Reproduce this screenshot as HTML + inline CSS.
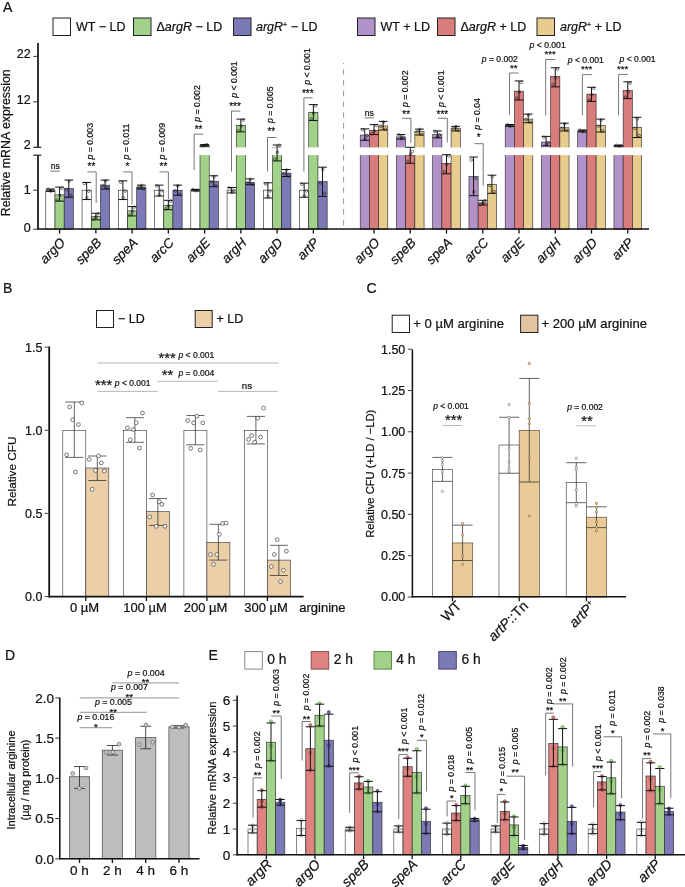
<!DOCTYPE html>
<html><head><meta charset="utf-8"><title>Figure</title>
<style>html,body{margin:0;padding:0;background:#fff;}svg{display:block;}svg text{font-family:"Liberation Sans",sans-serif;stroke:#111;stroke-width:0.22px;}</style></head>
<body>
<svg width="685" height="887" viewBox="0 0 685 887"  shape-rendering="geometricPrecision">
<rect x="0" y="0" width="685" height="887" fill="#fff"/>
<text x="3.00" y="12.00" font-size="14" text-anchor="start" fill="#111">A</text>
<rect x="53.00" y="18.00" width="17.50" height="17.50" fill="#ffffff" stroke="#222" stroke-width="1.0"/>
<text x="76.00" y="30.50" font-size="12.5" text-anchor="start" fill="#111">WT − LD</text>
<rect x="133.50" y="18.00" width="17.50" height="17.50" fill="#a2d28a" stroke="#222" stroke-width="1.0"/>
<text x="156.50" y="30.50" font-size="12.5" text-anchor="start" fill="#111">Δ<tspan font-style="italic">argR</tspan> − LD</text>
<rect x="233.50" y="18.00" width="17.50" height="17.50" fill="#7b7ab6" stroke="#222" stroke-width="1.0"/>
<text x="256.00" y="30.50" font-size="12.5" text-anchor="start" fill="#111"><tspan font-style="italic">argR</tspan><tspan dy="-4" font-size="7">+</tspan><tspan dy="4" font-size="1">&#8203;</tspan> − LD</text>
<rect x="357.50" y="18.00" width="17.50" height="17.50" fill="#b092c8" stroke="#222" stroke-width="1.0"/>
<text x="380.50" y="30.50" font-size="12.5" text-anchor="start" fill="#111">WT + LD</text>
<rect x="437.50" y="18.00" width="17.50" height="17.50" fill="#d97c7c" stroke="#222" stroke-width="1.0"/>
<text x="460.50" y="30.50" font-size="12.5" text-anchor="start" fill="#111">Δ<tspan font-style="italic">argR</tspan> + LD</text>
<rect x="537.00" y="18.00" width="17.50" height="17.50" fill="#e8cc8e" stroke="#222" stroke-width="1.0"/>
<text x="560.00" y="30.50" font-size="12.5" text-anchor="start" fill="#111"><tspan font-style="italic">argR</tspan><tspan dy="-4" font-size="7">+</tspan><tspan dy="4" font-size="1">&#8203;</tspan> + LD</text>
<rect x="45.80" y="190.20" width="9.20" height="39.00" fill="#ffffff" stroke="#222" stroke-width="0.6"/>
<rect x="55.00" y="194.88" width="9.20" height="34.32" fill="#a2d28a" stroke="#222" stroke-width="0.6"/>
<rect x="64.20" y="188.64" width="9.20" height="40.56" fill="#7b7ab6" stroke="#222" stroke-width="0.6"/>
<rect x="82.05" y="190.20" width="9.20" height="39.00" fill="#ffffff" stroke="#222" stroke-width="0.6"/>
<rect x="91.25" y="216.72" width="9.20" height="12.48" fill="#a2d28a" stroke="#222" stroke-width="0.6"/>
<rect x="100.45" y="185.13" width="9.20" height="44.07" fill="#7b7ab6" stroke="#222" stroke-width="0.6"/>
<rect x="118.30" y="190.20" width="9.20" height="39.00" fill="#ffffff" stroke="#222" stroke-width="0.6"/>
<rect x="127.50" y="210.87" width="9.20" height="18.33" fill="#a2d28a" stroke="#222" stroke-width="0.6"/>
<rect x="136.70" y="187.08" width="9.20" height="42.12" fill="#7b7ab6" stroke="#222" stroke-width="0.6"/>
<rect x="154.55" y="190.20" width="9.20" height="39.00" fill="#ffffff" stroke="#222" stroke-width="0.6"/>
<rect x="163.75" y="205.41" width="9.20" height="23.79" fill="#a2d28a" stroke="#222" stroke-width="0.6"/>
<rect x="172.95" y="190.20" width="9.20" height="39.00" fill="#7b7ab6" stroke="#222" stroke-width="0.6"/>
<rect x="190.80" y="190.20" width="9.20" height="39.00" fill="#ffffff" stroke="#222" stroke-width="0.6"/>
<rect x="200.00" y="145.35" width="9.20" height="83.85" fill="#a2d28a" stroke="#222" stroke-width="0.6"/>
<rect x="209.20" y="181.23" width="9.20" height="47.97" fill="#7b7ab6" stroke="#222" stroke-width="0.6"/>
<rect x="227.05" y="190.20" width="9.20" height="39.00" fill="#ffffff" stroke="#222" stroke-width="0.6"/>
<rect x="236.25" y="125.26" width="9.20" height="103.94" fill="#a2d28a" stroke="#222" stroke-width="0.6"/>
<rect x="245.45" y="182.40" width="9.20" height="46.80" fill="#7b7ab6" stroke="#222" stroke-width="0.6"/>
<rect x="263.30" y="190.20" width="9.20" height="39.00" fill="#ffffff" stroke="#222" stroke-width="0.6"/>
<rect x="272.50" y="147.30" width="9.20" height="81.90" fill="#a2d28a" stroke="#222" stroke-width="0.6"/>
<rect x="281.70" y="173.04" width="9.20" height="56.16" fill="#7b7ab6" stroke="#222" stroke-width="0.6"/>
<rect x="299.55" y="190.20" width="9.20" height="39.00" fill="#ffffff" stroke="#222" stroke-width="0.6"/>
<rect x="308.75" y="112.30" width="9.20" height="116.90" fill="#a2d28a" stroke="#222" stroke-width="0.6"/>
<rect x="317.95" y="181.62" width="9.20" height="47.58" fill="#7b7ab6" stroke="#222" stroke-width="0.6"/>
<rect x="360.20" y="135.03" width="9.20" height="94.17" fill="#b092c8" stroke="#222" stroke-width="0.6"/>
<rect x="369.40" y="130.48" width="9.20" height="98.72" fill="#d97c7c" stroke="#222" stroke-width="0.6"/>
<rect x="378.60" y="125.94" width="9.20" height="103.26" fill="#e8cc8e" stroke="#222" stroke-width="0.6"/>
<rect x="396.45" y="137.03" width="9.20" height="92.17" fill="#b092c8" stroke="#222" stroke-width="0.6"/>
<rect x="405.65" y="155.20" width="9.20" height="74.00" fill="#d97c7c" stroke="#222" stroke-width="0.6"/>
<rect x="414.85" y="131.39" width="9.20" height="97.81" fill="#e8cc8e" stroke="#222" stroke-width="0.6"/>
<rect x="432.70" y="134.57" width="9.20" height="94.63" fill="#b092c8" stroke="#222" stroke-width="0.6"/>
<rect x="441.90" y="163.29" width="9.20" height="65.91" fill="#d97c7c" stroke="#222" stroke-width="0.6"/>
<rect x="451.10" y="128.21" width="9.20" height="100.99" fill="#e8cc8e" stroke="#222" stroke-width="0.6"/>
<rect x="468.95" y="176.55" width="9.20" height="52.65" fill="#b092c8" stroke="#222" stroke-width="0.6"/>
<rect x="478.15" y="202.88" width="9.20" height="26.32" fill="#d97c7c" stroke="#222" stroke-width="0.6"/>
<rect x="487.35" y="184.51" width="9.20" height="44.69" fill="#e8cc8e" stroke="#222" stroke-width="0.6"/>
<rect x="505.20" y="125.48" width="9.20" height="103.72" fill="#b092c8" stroke="#222" stroke-width="0.6"/>
<rect x="514.40" y="91.17" width="9.20" height="138.03" fill="#d97c7c" stroke="#222" stroke-width="0.6"/>
<rect x="523.60" y="119.12" width="9.20" height="110.08" fill="#e8cc8e" stroke="#222" stroke-width="0.6"/>
<rect x="541.45" y="142.03" width="9.20" height="87.17" fill="#b092c8" stroke="#222" stroke-width="0.6"/>
<rect x="550.65" y="76.40" width="9.20" height="152.80" fill="#d97c7c" stroke="#222" stroke-width="0.6"/>
<rect x="559.85" y="127.76" width="9.20" height="101.44" fill="#e8cc8e" stroke="#222" stroke-width="0.6"/>
<rect x="577.70" y="130.94" width="9.20" height="98.26" fill="#b092c8" stroke="#222" stroke-width="0.6"/>
<rect x="586.90" y="94.12" width="9.20" height="135.08" fill="#d97c7c" stroke="#222" stroke-width="0.6"/>
<rect x="596.10" y="125.48" width="9.20" height="103.72" fill="#e8cc8e" stroke="#222" stroke-width="0.6"/>
<rect x="613.95" y="145.71" width="9.20" height="83.49" fill="#b092c8" stroke="#222" stroke-width="0.6"/>
<rect x="623.15" y="90.49" width="9.20" height="138.71" fill="#d97c7c" stroke="#222" stroke-width="0.6"/>
<rect x="632.35" y="127.30" width="9.20" height="101.90" fill="#e8cc8e" stroke="#222" stroke-width="0.6"/>
<rect x="30" y="147.4" width="625" height="7.7" fill="#fff"/>
<line x1="50.40" y1="189.03" x2="50.40" y2="191.37" stroke="#111" stroke-width="1.0" />
<line x1="46.00" y1="189.03" x2="54.80" y2="189.03" stroke="#111" stroke-width="1.0" />
<line x1="46.00" y1="191.37" x2="54.80" y2="191.37" stroke="#111" stroke-width="1.0" />
<circle cx="48.10" cy="189.21" r="1.3" fill="none" stroke="#111" stroke-width="0.55"/>
<circle cx="52.60" cy="190.32" r="1.3" fill="none" stroke="#111" stroke-width="0.55"/>
<circle cx="50.70" cy="191.14" r="1.3" fill="none" stroke="#111" stroke-width="0.55"/>
<line x1="59.60" y1="187.08" x2="59.60" y2="201.12" stroke="#111" stroke-width="1.0" />
<line x1="55.20" y1="187.08" x2="64.00" y2="187.08" stroke="#111" stroke-width="1.0" />
<line x1="55.20" y1="201.12" x2="64.00" y2="201.12" stroke="#111" stroke-width="1.0" />
<circle cx="61.80" cy="188.25" r="1.3" fill="none" stroke="#111" stroke-width="0.55"/>
<circle cx="59.90" cy="195.50" r="1.3" fill="none" stroke="#111" stroke-width="0.55"/>
<circle cx="57.30" cy="199.87" r="1.3" fill="none" stroke="#111" stroke-width="0.55"/>
<line x1="68.80" y1="180.06" x2="68.80" y2="197.22" stroke="#111" stroke-width="1.0" />
<line x1="64.40" y1="180.06" x2="73.20" y2="180.06" stroke="#111" stroke-width="1.0" />
<line x1="64.40" y1="197.22" x2="73.20" y2="197.22" stroke="#111" stroke-width="1.0" />
<circle cx="69.10" cy="181.35" r="1.3" fill="none" stroke="#111" stroke-width="0.55"/>
<circle cx="66.50" cy="189.50" r="1.3" fill="none" stroke="#111" stroke-width="0.55"/>
<circle cx="71.00" cy="195.50" r="1.3" fill="none" stroke="#111" stroke-width="0.55"/>
<line x1="86.65" y1="182.40" x2="86.65" y2="199.56" stroke="#111" stroke-width="1.0" />
<line x1="82.25" y1="182.40" x2="91.05" y2="182.40" stroke="#111" stroke-width="1.0" />
<line x1="82.25" y1="199.56" x2="91.05" y2="199.56" stroke="#111" stroke-width="1.0" />
<circle cx="84.35" cy="183.57" r="1.3" fill="none" stroke="#111" stroke-width="0.55"/>
<circle cx="88.85" cy="191.14" r="1.3" fill="none" stroke="#111" stroke-width="0.55"/>
<circle cx="86.95" cy="197.69" r="1.3" fill="none" stroke="#111" stroke-width="0.55"/>
<line x1="95.85" y1="213.21" x2="95.85" y2="219.84" stroke="#111" stroke-width="1.0" />
<line x1="91.45" y1="213.21" x2="100.25" y2="213.21" stroke="#111" stroke-width="1.0" />
<line x1="91.45" y1="219.84" x2="100.25" y2="219.84" stroke="#111" stroke-width="1.0" />
<circle cx="98.05" cy="213.74" r="1.3" fill="none" stroke="#111" stroke-width="0.55"/>
<circle cx="96.15" cy="217.03" r="1.3" fill="none" stroke="#111" stroke-width="0.55"/>
<circle cx="93.55" cy="219.22" r="1.3" fill="none" stroke="#111" stroke-width="0.55"/>
<line x1="105.05" y1="180.06" x2="105.05" y2="189.03" stroke="#111" stroke-width="1.0" />
<line x1="100.65" y1="180.06" x2="109.45" y2="180.06" stroke="#111" stroke-width="1.0" />
<line x1="100.65" y1="189.03" x2="109.45" y2="189.03" stroke="#111" stroke-width="1.0" />
<circle cx="105.35" cy="180.82" r="1.3" fill="none" stroke="#111" stroke-width="0.55"/>
<circle cx="102.75" cy="185.52" r="1.3" fill="none" stroke="#111" stroke-width="0.55"/>
<circle cx="107.25" cy="188.25" r="1.3" fill="none" stroke="#111" stroke-width="0.55"/>
<line x1="122.90" y1="180.84" x2="122.90" y2="199.56" stroke="#111" stroke-width="1.0" />
<line x1="118.50" y1="180.84" x2="127.30" y2="180.84" stroke="#111" stroke-width="1.0" />
<line x1="118.50" y1="199.56" x2="127.30" y2="199.56" stroke="#111" stroke-width="1.0" />
<circle cx="120.60" cy="182.24" r="1.3" fill="none" stroke="#111" stroke-width="0.55"/>
<circle cx="125.10" cy="191.14" r="1.3" fill="none" stroke="#111" stroke-width="0.55"/>
<circle cx="123.20" cy="197.69" r="1.3" fill="none" stroke="#111" stroke-width="0.55"/>
<line x1="132.10" y1="206.58" x2="132.10" y2="215.94" stroke="#111" stroke-width="1.0" />
<line x1="127.70" y1="206.58" x2="136.50" y2="206.58" stroke="#111" stroke-width="1.0" />
<line x1="127.70" y1="215.94" x2="136.50" y2="215.94" stroke="#111" stroke-width="1.0" />
<circle cx="134.30" cy="207.22" r="1.3" fill="none" stroke="#111" stroke-width="0.55"/>
<circle cx="132.40" cy="211.38" r="1.3" fill="none" stroke="#111" stroke-width="0.55"/>
<circle cx="129.80" cy="214.93" r="1.3" fill="none" stroke="#111" stroke-width="0.55"/>
<line x1="141.30" y1="185.13" x2="141.30" y2="189.03" stroke="#111" stroke-width="1.0" />
<line x1="136.90" y1="185.13" x2="145.70" y2="185.13" stroke="#111" stroke-width="1.0" />
<line x1="136.90" y1="189.03" x2="145.70" y2="189.03" stroke="#111" stroke-width="1.0" />
<circle cx="141.60" cy="185.42" r="1.3" fill="none" stroke="#111" stroke-width="0.55"/>
<circle cx="139.00" cy="187.27" r="1.3" fill="none" stroke="#111" stroke-width="0.55"/>
<circle cx="143.50" cy="188.64" r="1.3" fill="none" stroke="#111" stroke-width="0.55"/>
<line x1="159.15" y1="185.13" x2="159.15" y2="196.05" stroke="#111" stroke-width="1.0" />
<line x1="154.75" y1="185.13" x2="163.55" y2="185.13" stroke="#111" stroke-width="1.0" />
<line x1="154.75" y1="196.05" x2="163.55" y2="196.05" stroke="#111" stroke-width="1.0" />
<circle cx="156.85" cy="185.89" r="1.3" fill="none" stroke="#111" stroke-width="0.55"/>
<circle cx="161.35" cy="190.78" r="1.3" fill="none" stroke="#111" stroke-width="0.55"/>
<circle cx="159.45" cy="194.88" r="1.3" fill="none" stroke="#111" stroke-width="0.55"/>
<line x1="168.35" y1="200.34" x2="168.35" y2="209.70" stroke="#111" stroke-width="1.0" />
<line x1="163.95" y1="200.34" x2="172.75" y2="200.34" stroke="#111" stroke-width="1.0" />
<line x1="163.95" y1="209.70" x2="172.75" y2="209.70" stroke="#111" stroke-width="1.0" />
<circle cx="170.55" cy="201.10" r="1.3" fill="none" stroke="#111" stroke-width="0.55"/>
<circle cx="168.65" cy="205.84" r="1.3" fill="none" stroke="#111" stroke-width="0.55"/>
<circle cx="166.05" cy="208.84" r="1.3" fill="none" stroke="#111" stroke-width="0.55"/>
<line x1="177.55" y1="185.13" x2="177.55" y2="195.27" stroke="#111" stroke-width="1.0" />
<line x1="173.15" y1="185.13" x2="181.95" y2="185.13" stroke="#111" stroke-width="1.0" />
<line x1="173.15" y1="195.27" x2="181.95" y2="195.27" stroke="#111" stroke-width="1.0" />
<circle cx="177.85" cy="185.89" r="1.3" fill="none" stroke="#111" stroke-width="0.55"/>
<circle cx="175.25" cy="190.71" r="1.3" fill="none" stroke="#111" stroke-width="0.55"/>
<circle cx="179.75" cy="194.26" r="1.3" fill="none" stroke="#111" stroke-width="0.55"/>
<line x1="195.40" y1="189.42" x2="195.40" y2="190.98" stroke="#111" stroke-width="1.0" />
<line x1="191.00" y1="189.42" x2="199.80" y2="189.42" stroke="#111" stroke-width="1.0" />
<line x1="191.00" y1="190.98" x2="199.80" y2="190.98" stroke="#111" stroke-width="1.0" />
<circle cx="193.10" cy="189.54" r="1.3" fill="none" stroke="#111" stroke-width="0.55"/>
<circle cx="197.60" cy="190.28" r="1.3" fill="none" stroke="#111" stroke-width="0.55"/>
<circle cx="195.70" cy="190.82" r="1.3" fill="none" stroke="#111" stroke-width="0.55"/>
<line x1="204.60" y1="144.57" x2="204.60" y2="146.16" stroke="#111" stroke-width="1.0" />
<line x1="200.20" y1="144.57" x2="209.00" y2="144.57" stroke="#111" stroke-width="1.0" />
<line x1="200.20" y1="146.16" x2="209.00" y2="146.16" stroke="#111" stroke-width="1.0" />
<circle cx="206.80" cy="144.69" r="1.3" fill="none" stroke="#111" stroke-width="0.55"/>
<circle cx="204.90" cy="145.43" r="1.3" fill="none" stroke="#111" stroke-width="0.55"/>
<circle cx="202.30" cy="146.00" r="1.3" fill="none" stroke="#111" stroke-width="0.55"/>
<line x1="213.80" y1="175.77" x2="213.80" y2="186.69" stroke="#111" stroke-width="1.0" />
<line x1="209.40" y1="175.77" x2="218.20" y2="175.77" stroke="#111" stroke-width="1.0" />
<line x1="209.40" y1="186.69" x2="218.20" y2="186.69" stroke="#111" stroke-width="1.0" />
<circle cx="214.10" cy="176.59" r="1.3" fill="none" stroke="#111" stroke-width="0.55"/>
<circle cx="211.50" cy="181.78" r="1.3" fill="none" stroke="#111" stroke-width="0.55"/>
<circle cx="216.00" cy="185.60" r="1.3" fill="none" stroke="#111" stroke-width="0.55"/>
<line x1="231.65" y1="187.47" x2="231.65" y2="192.93" stroke="#111" stroke-width="1.0" />
<line x1="227.25" y1="187.47" x2="236.05" y2="187.47" stroke="#111" stroke-width="1.0" />
<line x1="227.25" y1="192.93" x2="236.05" y2="192.93" stroke="#111" stroke-width="1.0" />
<circle cx="229.35" cy="187.88" r="1.3" fill="none" stroke="#111" stroke-width="0.55"/>
<circle cx="233.85" cy="190.47" r="1.3" fill="none" stroke="#111" stroke-width="0.55"/>
<circle cx="231.95" cy="192.38" r="1.3" fill="none" stroke="#111" stroke-width="0.55"/>
<line x1="240.85" y1="119.12" x2="240.85" y2="131.85" stroke="#111" stroke-width="1.0" />
<line x1="236.45" y1="119.12" x2="245.25" y2="119.12" stroke="#111" stroke-width="1.0" />
<line x1="236.45" y1="131.85" x2="245.25" y2="131.85" stroke="#111" stroke-width="1.0" />
<circle cx="243.05" cy="120.04" r="1.3" fill="none" stroke="#111" stroke-width="0.55"/>
<circle cx="241.15" cy="125.92" r="1.3" fill="none" stroke="#111" stroke-width="0.55"/>
<circle cx="238.55" cy="130.53" r="1.3" fill="none" stroke="#111" stroke-width="0.55"/>
<line x1="250.05" y1="178.89" x2="250.05" y2="184.74" stroke="#111" stroke-width="1.0" />
<line x1="245.65" y1="178.89" x2="254.45" y2="178.89" stroke="#111" stroke-width="1.0" />
<line x1="245.65" y1="184.74" x2="254.45" y2="184.74" stroke="#111" stroke-width="1.0" />
<circle cx="250.35" cy="179.42" r="1.3" fill="none" stroke="#111" stroke-width="0.55"/>
<circle cx="247.75" cy="182.63" r="1.3" fill="none" stroke="#111" stroke-width="0.55"/>
<circle cx="252.25" cy="184.27" r="1.3" fill="none" stroke="#111" stroke-width="0.55"/>
<line x1="267.90" y1="182.79" x2="267.90" y2="198.00" stroke="#111" stroke-width="1.0" />
<line x1="263.50" y1="182.79" x2="272.30" y2="182.79" stroke="#111" stroke-width="1.0" />
<line x1="263.50" y1="198.00" x2="272.30" y2="198.00" stroke="#111" stroke-width="1.0" />
<circle cx="265.60" cy="183.90" r="1.3" fill="none" stroke="#111" stroke-width="0.55"/>
<circle cx="270.10" cy="190.98" r="1.3" fill="none" stroke="#111" stroke-width="0.55"/>
<circle cx="268.20" cy="196.44" r="1.3" fill="none" stroke="#111" stroke-width="0.55"/>
<line x1="277.10" y1="145.03" x2="277.10" y2="160.95" stroke="#111" stroke-width="1.0" />
<line x1="272.70" y1="145.03" x2="281.50" y2="145.03" stroke="#111" stroke-width="1.0" />
<line x1="272.70" y1="160.95" x2="281.50" y2="160.95" stroke="#111" stroke-width="1.0" />
<circle cx="279.30" cy="145.37" r="1.3" fill="none" stroke="#111" stroke-width="0.55"/>
<circle cx="277.40" cy="152.17" r="1.3" fill="none" stroke="#111" stroke-width="0.55"/>
<circle cx="274.80" cy="159.00" r="1.3" fill="none" stroke="#111" stroke-width="0.55"/>
<line x1="286.30" y1="169.53" x2="286.30" y2="176.55" stroke="#111" stroke-width="1.0" />
<line x1="281.90" y1="169.53" x2="290.70" y2="169.53" stroke="#111" stroke-width="1.0" />
<line x1="281.90" y1="176.55" x2="290.70" y2="176.55" stroke="#111" stroke-width="1.0" />
<circle cx="286.60" cy="170.06" r="1.3" fill="none" stroke="#111" stroke-width="0.55"/>
<circle cx="284.00" cy="173.39" r="1.3" fill="none" stroke="#111" stroke-width="0.55"/>
<circle cx="288.50" cy="175.85" r="1.3" fill="none" stroke="#111" stroke-width="0.55"/>
<line x1="304.15" y1="183.18" x2="304.15" y2="197.22" stroke="#111" stroke-width="1.0" />
<line x1="299.75" y1="183.18" x2="308.55" y2="183.18" stroke="#111" stroke-width="1.0" />
<line x1="299.75" y1="197.22" x2="308.55" y2="197.22" stroke="#111" stroke-width="1.0" />
<circle cx="301.85" cy="184.23" r="1.3" fill="none" stroke="#111" stroke-width="0.55"/>
<circle cx="306.35" cy="190.90" r="1.3" fill="none" stroke="#111" stroke-width="0.55"/>
<circle cx="304.45" cy="195.82" r="1.3" fill="none" stroke="#111" stroke-width="0.55"/>
<line x1="313.35" y1="104.58" x2="313.35" y2="120.48" stroke="#111" stroke-width="1.0" />
<line x1="308.95" y1="104.58" x2="317.75" y2="104.58" stroke="#111" stroke-width="1.0" />
<line x1="308.95" y1="120.48" x2="317.75" y2="120.48" stroke="#111" stroke-width="1.0" />
<circle cx="315.55" cy="105.74" r="1.3" fill="none" stroke="#111" stroke-width="0.55"/>
<circle cx="313.65" cy="113.12" r="1.3" fill="none" stroke="#111" stroke-width="0.55"/>
<circle cx="311.05" cy="118.85" r="1.3" fill="none" stroke="#111" stroke-width="0.55"/>
<line x1="322.55" y1="167.19" x2="322.55" y2="196.44" stroke="#111" stroke-width="1.0" />
<line x1="318.15" y1="167.19" x2="326.95" y2="167.19" stroke="#111" stroke-width="1.0" />
<line x1="318.15" y1="196.44" x2="326.95" y2="196.44" stroke="#111" stroke-width="1.0" />
<circle cx="322.85" cy="169.35" r="1.3" fill="none" stroke="#111" stroke-width="0.55"/>
<circle cx="320.25" cy="183.10" r="1.3" fill="none" stroke="#111" stroke-width="0.55"/>
<circle cx="324.75" cy="193.48" r="1.3" fill="none" stroke="#111" stroke-width="0.55"/>
<line x1="364.80" y1="128.85" x2="364.80" y2="140.30" stroke="#111" stroke-width="1.0" />
<line x1="360.40" y1="128.85" x2="369.20" y2="128.85" stroke="#111" stroke-width="1.0" />
<line x1="360.40" y1="140.30" x2="369.20" y2="140.30" stroke="#111" stroke-width="1.0" />
<circle cx="362.50" cy="129.77" r="1.3" fill="none" stroke="#111" stroke-width="0.55"/>
<circle cx="367.00" cy="135.56" r="1.3" fill="none" stroke="#111" stroke-width="0.55"/>
<circle cx="365.10" cy="139.25" r="1.3" fill="none" stroke="#111" stroke-width="0.55"/>
<line x1="374.00" y1="124.58" x2="374.00" y2="134.57" stroke="#111" stroke-width="1.0" />
<line x1="369.60" y1="124.58" x2="378.40" y2="124.58" stroke="#111" stroke-width="1.0" />
<line x1="369.60" y1="134.57" x2="378.40" y2="134.57" stroke="#111" stroke-width="1.0" />
<circle cx="376.20" cy="125.46" r="1.3" fill="none" stroke="#111" stroke-width="0.55"/>
<circle cx="374.30" cy="130.89" r="1.3" fill="none" stroke="#111" stroke-width="0.55"/>
<circle cx="371.70" cy="133.76" r="1.3" fill="none" stroke="#111" stroke-width="0.55"/>
<line x1="383.20" y1="121.39" x2="383.20" y2="130.03" stroke="#111" stroke-width="1.0" />
<line x1="378.80" y1="121.39" x2="387.60" y2="121.39" stroke="#111" stroke-width="1.0" />
<line x1="378.80" y1="130.03" x2="387.60" y2="130.03" stroke="#111" stroke-width="1.0" />
<circle cx="383.50" cy="122.08" r="1.3" fill="none" stroke="#111" stroke-width="0.55"/>
<circle cx="380.90" cy="126.35" r="1.3" fill="none" stroke="#111" stroke-width="0.55"/>
<circle cx="385.40" cy="129.21" r="1.3" fill="none" stroke="#111" stroke-width="0.55"/>
<line x1="401.05" y1="134.57" x2="401.05" y2="139.12" stroke="#111" stroke-width="1.0" />
<line x1="396.65" y1="134.57" x2="405.45" y2="134.57" stroke="#111" stroke-width="1.0" />
<line x1="396.65" y1="139.12" x2="405.45" y2="139.12" stroke="#111" stroke-width="1.0" />
<circle cx="398.75" cy="134.94" r="1.3" fill="none" stroke="#111" stroke-width="0.55"/>
<circle cx="403.25" cy="137.24" r="1.3" fill="none" stroke="#111" stroke-width="0.55"/>
<circle cx="401.35" cy="138.70" r="1.3" fill="none" stroke="#111" stroke-width="0.55"/>
<line x1="410.25" y1="147.30" x2="410.25" y2="163.29" stroke="#111" stroke-width="1.0" />
<line x1="405.85" y1="147.30" x2="414.65" y2="147.30" stroke="#111" stroke-width="1.0" />
<line x1="405.85" y1="163.29" x2="414.65" y2="163.29" stroke="#111" stroke-width="1.0" />
<circle cx="412.45" cy="151.49" r="1.3" fill="none" stroke="#111" stroke-width="0.55"/>
<circle cx="410.55" cy="154.16" r="1.3" fill="none" stroke="#111" stroke-width="0.55"/>
<circle cx="407.95" cy="161.26" r="1.3" fill="none" stroke="#111" stroke-width="0.55"/>
<line x1="419.45" y1="129.12" x2="419.45" y2="135.03" stroke="#111" stroke-width="1.0" />
<line x1="415.05" y1="129.12" x2="423.85" y2="129.12" stroke="#111" stroke-width="1.0" />
<line x1="415.05" y1="135.03" x2="423.85" y2="135.03" stroke="#111" stroke-width="1.0" />
<circle cx="419.75" cy="129.46" r="1.3" fill="none" stroke="#111" stroke-width="0.55"/>
<circle cx="417.15" cy="131.76" r="1.3" fill="none" stroke="#111" stroke-width="0.55"/>
<circle cx="421.65" cy="134.30" r="1.3" fill="none" stroke="#111" stroke-width="0.55"/>
<line x1="437.30" y1="130.94" x2="437.30" y2="137.76" stroke="#111" stroke-width="1.0" />
<line x1="432.90" y1="130.94" x2="441.70" y2="130.94" stroke="#111" stroke-width="1.0" />
<line x1="432.90" y1="137.76" x2="441.70" y2="137.76" stroke="#111" stroke-width="1.0" />
<circle cx="435.00" cy="131.48" r="1.3" fill="none" stroke="#111" stroke-width="0.55"/>
<circle cx="439.50" cy="134.89" r="1.3" fill="none" stroke="#111" stroke-width="0.55"/>
<circle cx="437.60" cy="137.12" r="1.3" fill="none" stroke="#111" stroke-width="0.55"/>
<line x1="446.50" y1="154.71" x2="446.50" y2="173.82" stroke="#111" stroke-width="1.0" />
<line x1="442.10" y1="154.71" x2="450.90" y2="154.71" stroke="#111" stroke-width="1.0" />
<line x1="442.10" y1="173.82" x2="450.90" y2="173.82" stroke="#111" stroke-width="1.0" />
<circle cx="448.70" cy="156.00" r="1.3" fill="none" stroke="#111" stroke-width="0.55"/>
<circle cx="446.80" cy="164.34" r="1.3" fill="none" stroke="#111" stroke-width="0.55"/>
<circle cx="444.20" cy="171.71" r="1.3" fill="none" stroke="#111" stroke-width="0.55"/>
<line x1="455.70" y1="126.39" x2="455.70" y2="130.94" stroke="#111" stroke-width="1.0" />
<line x1="451.30" y1="126.39" x2="460.10" y2="126.39" stroke="#111" stroke-width="1.0" />
<line x1="451.30" y1="130.94" x2="460.10" y2="130.94" stroke="#111" stroke-width="1.0" />
<circle cx="456.00" cy="126.67" r="1.3" fill="none" stroke="#111" stroke-width="0.55"/>
<circle cx="453.40" cy="128.48" r="1.3" fill="none" stroke="#111" stroke-width="0.55"/>
<circle cx="457.90" cy="130.39" r="1.3" fill="none" stroke="#111" stroke-width="0.55"/>
<line x1="473.55" y1="157.05" x2="473.55" y2="195.66" stroke="#111" stroke-width="1.0" />
<line x1="469.15" y1="157.05" x2="477.95" y2="157.05" stroke="#111" stroke-width="1.0" />
<line x1="469.15" y1="195.66" x2="477.95" y2="195.66" stroke="#111" stroke-width="1.0" />
<circle cx="471.25" cy="159.97" r="1.3" fill="none" stroke="#111" stroke-width="0.55"/>
<circle cx="475.75" cy="178.46" r="1.3" fill="none" stroke="#111" stroke-width="0.55"/>
<circle cx="473.85" cy="191.84" r="1.3" fill="none" stroke="#111" stroke-width="0.55"/>
<line x1="482.75" y1="200.34" x2="482.75" y2="205.02" stroke="#111" stroke-width="1.0" />
<line x1="478.35" y1="200.34" x2="487.15" y2="200.34" stroke="#111" stroke-width="1.0" />
<line x1="478.35" y1="205.02" x2="487.15" y2="205.02" stroke="#111" stroke-width="1.0" />
<circle cx="484.95" cy="200.72" r="1.3" fill="none" stroke="#111" stroke-width="0.55"/>
<circle cx="483.05" cy="203.09" r="1.3" fill="none" stroke="#111" stroke-width="0.55"/>
<circle cx="480.45" cy="204.59" r="1.3" fill="none" stroke="#111" stroke-width="0.55"/>
<line x1="491.95" y1="175.19" x2="491.95" y2="193.32" stroke="#111" stroke-width="1.0" />
<line x1="487.55" y1="175.19" x2="496.35" y2="175.19" stroke="#111" stroke-width="1.0" />
<line x1="487.55" y1="193.32" x2="496.35" y2="193.32" stroke="#111" stroke-width="1.0" />
<circle cx="492.25" cy="176.58" r="1.3" fill="none" stroke="#111" stroke-width="0.55"/>
<circle cx="489.65" cy="185.39" r="1.3" fill="none" stroke="#111" stroke-width="0.55"/>
<circle cx="494.15" cy="191.56" r="1.3" fill="none" stroke="#111" stroke-width="0.55"/>
<line x1="509.80" y1="124.58" x2="509.80" y2="126.39" stroke="#111" stroke-width="1.0" />
<line x1="505.40" y1="124.58" x2="514.20" y2="124.58" stroke="#111" stroke-width="1.0" />
<line x1="505.40" y1="126.39" x2="514.20" y2="126.39" stroke="#111" stroke-width="1.0" />
<circle cx="507.50" cy="124.71" r="1.3" fill="none" stroke="#111" stroke-width="0.55"/>
<circle cx="512.00" cy="125.57" r="1.3" fill="none" stroke="#111" stroke-width="0.55"/>
<circle cx="510.10" cy="126.21" r="1.3" fill="none" stroke="#111" stroke-width="0.55"/>
<line x1="519.00" y1="80.94" x2="519.00" y2="100.03" stroke="#111" stroke-width="1.0" />
<line x1="514.60" y1="80.94" x2="523.40" y2="80.94" stroke="#111" stroke-width="1.0" />
<line x1="514.60" y1="100.03" x2="523.40" y2="100.03" stroke="#111" stroke-width="1.0" />
<circle cx="521.20" cy="82.48" r="1.3" fill="none" stroke="#111" stroke-width="0.55"/>
<circle cx="519.30" cy="92.06" r="1.3" fill="none" stroke="#111" stroke-width="0.55"/>
<circle cx="516.70" cy="98.26" r="1.3" fill="none" stroke="#111" stroke-width="0.55"/>
<line x1="528.20" y1="114.12" x2="528.20" y2="122.76" stroke="#111" stroke-width="1.0" />
<line x1="523.80" y1="114.12" x2="532.60" y2="114.12" stroke="#111" stroke-width="1.0" />
<line x1="523.80" y1="122.76" x2="532.60" y2="122.76" stroke="#111" stroke-width="1.0" />
<circle cx="528.50" cy="114.87" r="1.3" fill="none" stroke="#111" stroke-width="0.55"/>
<circle cx="525.90" cy="119.48" r="1.3" fill="none" stroke="#111" stroke-width="0.55"/>
<circle cx="530.40" cy="122.03" r="1.3" fill="none" stroke="#111" stroke-width="0.55"/>
<line x1="546.05" y1="136.39" x2="546.05" y2="145.71" stroke="#111" stroke-width="1.0" />
<line x1="541.65" y1="136.39" x2="550.45" y2="136.39" stroke="#111" stroke-width="1.0" />
<line x1="541.65" y1="145.71" x2="550.45" y2="145.71" stroke="#111" stroke-width="1.0" />
<circle cx="543.75" cy="137.24" r="1.3" fill="none" stroke="#111" stroke-width="0.55"/>
<circle cx="548.25" cy="142.40" r="1.3" fill="none" stroke="#111" stroke-width="0.55"/>
<circle cx="546.35" cy="144.97" r="1.3" fill="none" stroke="#111" stroke-width="0.55"/>
<line x1="555.25" y1="67.76" x2="555.25" y2="86.85" stroke="#111" stroke-width="1.0" />
<line x1="550.85" y1="67.76" x2="559.65" y2="67.76" stroke="#111" stroke-width="1.0" />
<line x1="550.85" y1="86.85" x2="559.65" y2="86.85" stroke="#111" stroke-width="1.0" />
<circle cx="557.45" cy="69.06" r="1.3" fill="none" stroke="#111" stroke-width="0.55"/>
<circle cx="555.55" cy="77.44" r="1.3" fill="none" stroke="#111" stroke-width="0.55"/>
<circle cx="552.95" cy="84.76" r="1.3" fill="none" stroke="#111" stroke-width="0.55"/>
<line x1="564.45" y1="123.21" x2="564.45" y2="130.94" stroke="#111" stroke-width="1.0" />
<line x1="560.05" y1="123.21" x2="568.85" y2="123.21" stroke="#111" stroke-width="1.0" />
<line x1="560.05" y1="130.94" x2="568.85" y2="130.94" stroke="#111" stroke-width="1.0" />
<circle cx="564.75" cy="123.89" r="1.3" fill="none" stroke="#111" stroke-width="0.55"/>
<circle cx="562.15" cy="128.07" r="1.3" fill="none" stroke="#111" stroke-width="0.55"/>
<circle cx="566.65" cy="130.30" r="1.3" fill="none" stroke="#111" stroke-width="0.55"/>
<line x1="582.30" y1="130.03" x2="582.30" y2="131.85" stroke="#111" stroke-width="1.0" />
<line x1="577.90" y1="130.03" x2="586.70" y2="130.03" stroke="#111" stroke-width="1.0" />
<line x1="577.90" y1="131.85" x2="586.70" y2="131.85" stroke="#111" stroke-width="1.0" />
<circle cx="580.00" cy="130.17" r="1.3" fill="none" stroke="#111" stroke-width="0.55"/>
<circle cx="584.50" cy="131.03" r="1.3" fill="none" stroke="#111" stroke-width="0.55"/>
<circle cx="582.60" cy="131.67" r="1.3" fill="none" stroke="#111" stroke-width="0.55"/>
<line x1="591.50" y1="87.31" x2="591.50" y2="101.40" stroke="#111" stroke-width="1.0" />
<line x1="587.10" y1="87.31" x2="595.90" y2="87.31" stroke="#111" stroke-width="1.0" />
<line x1="587.10" y1="101.40" x2="595.90" y2="101.40" stroke="#111" stroke-width="1.0" />
<circle cx="593.70" cy="88.33" r="1.3" fill="none" stroke="#111" stroke-width="0.55"/>
<circle cx="591.80" cy="94.85" r="1.3" fill="none" stroke="#111" stroke-width="0.55"/>
<circle cx="589.20" cy="99.94" r="1.3" fill="none" stroke="#111" stroke-width="0.55"/>
<line x1="600.70" y1="119.12" x2="600.70" y2="132.07" stroke="#111" stroke-width="1.0" />
<line x1="596.30" y1="119.12" x2="605.10" y2="119.12" stroke="#111" stroke-width="1.0" />
<line x1="596.30" y1="132.07" x2="605.10" y2="132.07" stroke="#111" stroke-width="1.0" />
<circle cx="601.00" cy="120.08" r="1.3" fill="none" stroke="#111" stroke-width="0.55"/>
<circle cx="598.40" cy="126.14" r="1.3" fill="none" stroke="#111" stroke-width="0.55"/>
<circle cx="602.90" cy="130.76" r="1.3" fill="none" stroke="#111" stroke-width="0.55"/>
<line x1="618.55" y1="145.25" x2="618.55" y2="146.16" stroke="#111" stroke-width="1.0" />
<line x1="614.15" y1="145.25" x2="622.95" y2="145.25" stroke="#111" stroke-width="1.0" />
<line x1="614.15" y1="146.16" x2="622.95" y2="146.16" stroke="#111" stroke-width="1.0" />
<circle cx="616.25" cy="145.32" r="1.3" fill="none" stroke="#111" stroke-width="0.55"/>
<circle cx="620.75" cy="145.75" r="1.3" fill="none" stroke="#111" stroke-width="0.55"/>
<circle cx="618.85" cy="146.07" r="1.3" fill="none" stroke="#111" stroke-width="0.55"/>
<line x1="627.75" y1="81.85" x2="627.75" y2="98.67" stroke="#111" stroke-width="1.0" />
<line x1="623.35" y1="81.85" x2="632.15" y2="81.85" stroke="#111" stroke-width="1.0" />
<line x1="623.35" y1="98.67" x2="632.15" y2="98.67" stroke="#111" stroke-width="1.0" />
<circle cx="629.95" cy="83.15" r="1.3" fill="none" stroke="#111" stroke-width="0.55"/>
<circle cx="628.05" cy="91.31" r="1.3" fill="none" stroke="#111" stroke-width="0.55"/>
<circle cx="625.45" cy="97.03" r="1.3" fill="none" stroke="#111" stroke-width="0.55"/>
<line x1="636.95" y1="117.30" x2="636.95" y2="137.53" stroke="#111" stroke-width="1.0" />
<line x1="632.55" y1="117.30" x2="641.35" y2="117.30" stroke="#111" stroke-width="1.0" />
<line x1="632.55" y1="137.53" x2="641.35" y2="137.53" stroke="#111" stroke-width="1.0" />
<circle cx="637.25" cy="118.80" r="1.3" fill="none" stroke="#111" stroke-width="0.55"/>
<circle cx="634.65" cy="128.32" r="1.3" fill="none" stroke="#111" stroke-width="0.55"/>
<circle cx="639.15" cy="135.48" r="1.3" fill="none" stroke="#111" stroke-width="0.55"/>
<line x1="38.00" y1="43.00" x2="38.00" y2="147.30" stroke="#111" stroke-width="1.7" />
<line x1="38.00" y1="155.20" x2="38.00" y2="229.00" stroke="#111" stroke-width="1.7" />
<line x1="33.30" y1="147.30" x2="41.30" y2="147.30" stroke="#222" stroke-width="1.2" />
<line x1="33.30" y1="155.20" x2="41.30" y2="155.20" stroke="#222" stroke-width="1.2" />
<line x1="33.30" y1="56.40" x2="38.00" y2="56.40" stroke="#333" stroke-width="1.0" />
<text x="30.60" y="58.10" font-size="12.5" text-anchor="end" fill="#111">22</text>
<line x1="33.30" y1="101.85" x2="38.00" y2="101.85" stroke="#333" stroke-width="1.0" />
<text x="30.60" y="103.55" font-size="12.5" text-anchor="end" fill="#111">12</text>
<text x="30.60" y="149.10" font-size="12.5" text-anchor="end" fill="#111">2</text>
<line x1="33.30" y1="190.20" x2="38.00" y2="190.20" stroke="#333" stroke-width="1.0" />
<text x="30.60" y="194.00" font-size="12.5" text-anchor="end" fill="#111">1</text>
<line x1="33.30" y1="229.20" x2="38.00" y2="229.20" stroke="#333" stroke-width="1.0" />
<text x="30.60" y="231.90" font-size="12.5" text-anchor="end" fill="#111">0</text>
<line x1="37.15" y1="229.00" x2="649.00" y2="229.00" stroke="#111" stroke-width="1.7" />
<line x1="59.60" y1="229.00" x2="59.60" y2="233.60" stroke="#111" stroke-width="1.3" />
<line x1="95.85" y1="229.00" x2="95.85" y2="233.60" stroke="#111" stroke-width="1.3" />
<line x1="132.10" y1="229.00" x2="132.10" y2="233.60" stroke="#111" stroke-width="1.3" />
<line x1="168.35" y1="229.00" x2="168.35" y2="233.60" stroke="#111" stroke-width="1.3" />
<line x1="204.60" y1="229.00" x2="204.60" y2="233.60" stroke="#111" stroke-width="1.3" />
<line x1="240.85" y1="229.00" x2="240.85" y2="233.60" stroke="#111" stroke-width="1.3" />
<line x1="277.10" y1="229.00" x2="277.10" y2="233.60" stroke="#111" stroke-width="1.3" />
<line x1="313.35" y1="229.00" x2="313.35" y2="233.60" stroke="#111" stroke-width="1.3" />
<line x1="374.00" y1="229.00" x2="374.00" y2="233.60" stroke="#111" stroke-width="1.3" />
<line x1="410.25" y1="229.00" x2="410.25" y2="233.60" stroke="#111" stroke-width="1.3" />
<line x1="446.50" y1="229.00" x2="446.50" y2="233.60" stroke="#111" stroke-width="1.3" />
<line x1="482.75" y1="229.00" x2="482.75" y2="233.60" stroke="#111" stroke-width="1.3" />
<line x1="519.00" y1="229.00" x2="519.00" y2="233.60" stroke="#111" stroke-width="1.3" />
<line x1="555.25" y1="229.00" x2="555.25" y2="233.60" stroke="#111" stroke-width="1.3" />
<line x1="591.50" y1="229.00" x2="591.50" y2="233.60" stroke="#111" stroke-width="1.3" />
<line x1="627.75" y1="229.00" x2="627.75" y2="233.60" stroke="#111" stroke-width="1.3" />
<text x="66.10" y="243.50" font-size="13.3" text-anchor="end" fill="#111" font-style="italic" transform="rotate(-45 66.10 243.50)">argO</text>
<text x="102.35" y="243.50" font-size="13.3" text-anchor="end" fill="#111" font-style="italic" transform="rotate(-45 102.35 243.50)">speB</text>
<text x="138.60" y="243.50" font-size="13.3" text-anchor="end" fill="#111" font-style="italic" transform="rotate(-45 138.60 243.50)">speA</text>
<text x="174.85" y="243.50" font-size="13.3" text-anchor="end" fill="#111" font-style="italic" transform="rotate(-45 174.85 243.50)">arcC</text>
<text x="211.10" y="243.50" font-size="13.3" text-anchor="end" fill="#111" font-style="italic" transform="rotate(-45 211.10 243.50)">argE</text>
<text x="247.35" y="243.50" font-size="13.3" text-anchor="end" fill="#111" font-style="italic" transform="rotate(-45 247.35 243.50)">argH</text>
<text x="283.60" y="243.50" font-size="13.3" text-anchor="end" fill="#111" font-style="italic" transform="rotate(-45 283.60 243.50)">argD</text>
<text x="319.85" y="243.50" font-size="13.3" text-anchor="end" fill="#111" font-style="italic" transform="rotate(-45 319.85 243.50)">artP</text>
<text x="380.50" y="243.50" font-size="13.3" text-anchor="end" fill="#111" font-style="italic" transform="rotate(-45 380.50 243.50)">argO</text>
<text x="416.75" y="243.50" font-size="13.3" text-anchor="end" fill="#111" font-style="italic" transform="rotate(-45 416.75 243.50)">speB</text>
<text x="453.00" y="243.50" font-size="13.3" text-anchor="end" fill="#111" font-style="italic" transform="rotate(-45 453.00 243.50)">speA</text>
<text x="489.25" y="243.50" font-size="13.3" text-anchor="end" fill="#111" font-style="italic" transform="rotate(-45 489.25 243.50)">arcC</text>
<text x="525.50" y="243.50" font-size="13.3" text-anchor="end" fill="#111" font-style="italic" transform="rotate(-45 525.50 243.50)">argE</text>
<text x="561.75" y="243.50" font-size="13.3" text-anchor="end" fill="#111" font-style="italic" transform="rotate(-45 561.75 243.50)">argH</text>
<text x="598.00" y="243.50" font-size="13.3" text-anchor="end" fill="#111" font-style="italic" transform="rotate(-45 598.00 243.50)">argD</text>
<text x="634.25" y="243.50" font-size="13.3" text-anchor="end" fill="#111" font-style="italic" transform="rotate(-45 634.25 243.50)">artP</text>
<text x="10.20" y="142.80" font-size="12.35" text-anchor="middle" fill="#111" transform="rotate(-90 10.20 142.80)">Relative mRNA expression</text>
<line x1="343.60" y1="63.00" x2="343.60" y2="226.60" stroke="#8a8a8a" stroke-width="0.9" stroke-dasharray="5.5 5.25" stroke-dashoffset="4.5"/>
<text x="55.20" y="169.00" font-size="8.6" text-anchor="middle" fill="#111">ns</text>
<line x1="50.40" y1="171.20" x2="59.80" y2="171.20" stroke="#555" stroke-width="0.8" />
<polyline points="87.40,171.90 96.20,171.90 96.20,203.00" fill="none" stroke="#555" stroke-width="0.8"/>
<text x="91.40" y="170.40" font-size="10" text-anchor="middle" fill="#111">**</text>
<text x="93.30" y="159.50" font-size="8.7" text-anchor="start" fill="#111" transform="rotate(-90 93.30 159.50)"><tspan font-style="italic">p</tspan> = 0.003</text>
<polyline points="123.20,171.90 132.00,171.90 132.00,204.50" fill="none" stroke="#555" stroke-width="0.8"/>
<text x="127.40" y="170.40" font-size="10" text-anchor="middle" fill="#111">*</text>
<text x="129.30" y="159.50" font-size="8.7" text-anchor="start" fill="#111" transform="rotate(-90 129.30 159.50)"><tspan font-style="italic">p</tspan> = 0.011</text>
<polyline points="159.60,171.90 168.40,171.90 168.40,199.00" fill="none" stroke="#555" stroke-width="0.8"/>
<text x="163.40" y="170.40" font-size="10" text-anchor="middle" fill="#111">**</text>
<text x="165.30" y="159.50" font-size="8.7" text-anchor="start" fill="#111" transform="rotate(-90 165.30 159.50)"><tspan font-style="italic">p</tspan> = 0.009</text>
<polyline points="194.10,170.20 194.10,134.20 203.40,134.20" fill="none" stroke="#555" stroke-width="0.8"/>
<text x="198.60" y="133.00" font-size="10" text-anchor="middle" fill="#111">**</text>
<text x="200.50" y="121.70" font-size="8.7" text-anchor="start" fill="#111" transform="rotate(-90 200.50 121.70)"><tspan font-style="italic">p</tspan> = 0.002</text>
<polyline points="231.50,171.50 231.50,111.10 240.30,111.10" fill="none" stroke="#555" stroke-width="0.8"/>
<text x="235.00" y="109.60" font-size="10" text-anchor="middle" fill="#111">***</text>
<text x="236.90" y="97.80" font-size="8.7" text-anchor="start" fill="#111" transform="rotate(-90 236.90 97.80)"><tspan font-style="italic">p</tspan> &lt; 0.001</text>
<polyline points="267.50,171.50 267.50,137.50 276.30,137.50" fill="none" stroke="#555" stroke-width="0.8"/>
<text x="271.30" y="134.80" font-size="10" text-anchor="middle" fill="#111">**</text>
<text x="273.20" y="122.90" font-size="8.7" text-anchor="start" fill="#111" transform="rotate(-90 273.20 122.90)"><tspan font-style="italic">p</tspan> = 0.005</text>
<polyline points="303.90,171.50 303.90,97.80 312.70,97.80" fill="none" stroke="#555" stroke-width="0.8"/>
<text x="307.80" y="96.60" font-size="10" text-anchor="middle" fill="#111">***</text>
<text x="309.70" y="84.70" font-size="8.7" text-anchor="start" fill="#111" transform="rotate(-90 309.70 84.70)"><tspan font-style="italic">p</tspan> &lt; 0.001</text>
<text x="369.30" y="115.80" font-size="8.6" text-anchor="middle" fill="#111">ns</text>
<line x1="364.60" y1="117.90" x2="374.00" y2="117.90" stroke="#555" stroke-width="0.8" />
<polyline points="402.00,118.30 410.90,118.30 410.90,143.00" fill="none" stroke="#555" stroke-width="0.8"/>
<text x="406.20" y="117.60" font-size="10" text-anchor="middle" fill="#111">**</text>
<text x="408.10" y="107.00" font-size="8.7" text-anchor="start" fill="#111" transform="rotate(-90 408.10 107.00)"><tspan font-style="italic">p</tspan> = 0.002</text>
<polyline points="438.00,118.30 447.30,118.30 447.30,142.40" fill="none" stroke="#555" stroke-width="0.8"/>
<text x="442.40" y="117.60" font-size="10" text-anchor="middle" fill="#111">***</text>
<text x="444.30" y="107.00" font-size="8.7" text-anchor="start" fill="#111" transform="rotate(-90 444.30 107.00)"><tspan font-style="italic">p</tspan> &lt; 0.001</text>
<polyline points="474.40,143.70 483.20,143.70 483.20,185.80" fill="none" stroke="#555" stroke-width="0.8"/>
<text x="478.60" y="141.00" font-size="10" text-anchor="middle" fill="#111">*</text>
<text x="480.50" y="129.80" font-size="8.7" text-anchor="start" fill="#111" transform="rotate(-90 480.50 129.80)"><tspan font-style="italic">p</tspan> = 0.04</text>
<polyline points="509.50,114.80 509.50,73.00 518.80,73.00" fill="none" stroke="#555" stroke-width="0.8"/>
<text x="513.80" y="70.50" font-size="9.6" text-anchor="middle" fill="#111">**</text>
<text x="481.80" y="62.40" font-size="8.6" text-anchor="start" fill="#111"><tspan font-style="italic">p</tspan> = 0.002</text>
<polyline points="545.70,115.30 545.70,59.50 555.20,59.50" fill="none" stroke="#555" stroke-width="0.8"/>
<text x="550.20" y="57.00" font-size="9.6" text-anchor="middle" fill="#111">***</text>
<text x="529.60" y="47.70" font-size="8.6" text-anchor="start" fill="#111"><tspan font-style="italic">p</tspan> &lt; 0.001</text>
<polyline points="582.40,115.30 582.40,74.60 591.90,74.60" fill="none" stroke="#555" stroke-width="0.8"/>
<text x="586.60" y="71.50" font-size="9.6" text-anchor="middle" fill="#111">***</text>
<text x="567.80" y="63.30" font-size="8.6" text-anchor="start" fill="#111"><tspan font-style="italic">p</tspan> &lt; 0.001</text>
<polyline points="618.60,115.30 618.60,74.40 628.00,74.40" fill="none" stroke="#555" stroke-width="0.8"/>
<text x="622.60" y="71.50" font-size="9.6" text-anchor="middle" fill="#111">***</text>
<text x="619.50" y="61.60" font-size="8.6" text-anchor="start" fill="#111"><tspan font-style="italic">p</tspan> &lt; 0.001</text>
<text x="3.00" y="292.80" font-size="14" text-anchor="start" fill="#111">B</text>
<rect x="96.50" y="310.50" width="17.00" height="17.00" fill="#ffffff" stroke="#222" stroke-width="1.0"/>
<text x="118.00" y="322.80" font-size="12.5" text-anchor="start" fill="#111">− LD</text>
<rect x="195.20" y="310.50" width="17.00" height="17.00" fill="#ebcfa8" stroke="#222" stroke-width="1.0"/>
<text x="216.50" y="322.80" font-size="12.5" text-anchor="start" fill="#111">+ LD</text>
<rect x="62.80" y="430.30" width="23.00" height="166.20" fill="#ffffff" stroke="#333" stroke-width="0.6"/>
<rect x="85.80" y="468.00" width="23.00" height="128.50" fill="#ebcfa8" stroke="#333" stroke-width="0.6"/>
<line x1="74.30" y1="402.00" x2="74.30" y2="457.40" stroke="#222" stroke-width="0.7" />
<line x1="65.30" y1="402.00" x2="83.30" y2="402.00" stroke="#222" stroke-width="0.7" />
<line x1="65.30" y1="457.40" x2="83.30" y2="457.40" stroke="#222" stroke-width="0.7" />
<line x1="97.30" y1="456.00" x2="97.30" y2="480.50" stroke="#222" stroke-width="0.7" />
<line x1="88.30" y1="456.00" x2="106.30" y2="456.00" stroke="#222" stroke-width="0.7" />
<line x1="88.30" y1="480.50" x2="106.30" y2="480.50" stroke="#222" stroke-width="0.7" />
<circle cx="81.70" cy="402.90" r="1.9" fill="#fff" stroke="#222" stroke-width="0.6"/>
<circle cx="69.60" cy="407.00" r="1.9" fill="#fff" stroke="#222" stroke-width="0.6"/>
<circle cx="72.60" cy="419.70" r="1.9" fill="#fff" stroke="#222" stroke-width="0.6"/>
<circle cx="78.40" cy="424.50" r="1.9" fill="#fff" stroke="#222" stroke-width="0.6"/>
<circle cx="66.60" cy="454.90" r="1.9" fill="#fff" stroke="#222" stroke-width="0.6"/>
<circle cx="75.40" cy="472.00" r="1.9" fill="#fff" stroke="#222" stroke-width="0.6"/>
<circle cx="89.20" cy="459.40" r="1.9" fill="#fff" stroke="#222" stroke-width="0.6"/>
<circle cx="98.50" cy="455.90" r="1.9" fill="#fff" stroke="#222" stroke-width="0.6"/>
<circle cx="101.30" cy="463.00" r="1.9" fill="#fff" stroke="#222" stroke-width="0.6"/>
<circle cx="95.50" cy="470.50" r="1.9" fill="#fff" stroke="#222" stroke-width="0.6"/>
<circle cx="104.30" cy="471.00" r="1.9" fill="#fff" stroke="#222" stroke-width="0.6"/>
<circle cx="92.20" cy="489.30" r="1.9" fill="#fff" stroke="#222" stroke-width="0.6"/>
<rect x="123.40" y="430.30" width="23.00" height="166.20" fill="#ffffff" stroke="#333" stroke-width="0.6"/>
<rect x="146.40" y="511.50" width="23.00" height="85.00" fill="#ebcfa8" stroke="#333" stroke-width="0.6"/>
<line x1="134.90" y1="417.70" x2="134.90" y2="442.30" stroke="#222" stroke-width="0.7" />
<line x1="125.90" y1="417.70" x2="143.90" y2="417.70" stroke="#222" stroke-width="0.7" />
<line x1="125.90" y1="442.30" x2="143.90" y2="442.30" stroke="#222" stroke-width="0.7" />
<line x1="157.90" y1="498.50" x2="157.90" y2="525.40" stroke="#222" stroke-width="0.7" />
<line x1="148.90" y1="498.50" x2="166.90" y2="498.50" stroke="#222" stroke-width="0.7" />
<line x1="148.90" y1="525.40" x2="166.90" y2="525.40" stroke="#222" stroke-width="0.7" />
<circle cx="142.50" cy="413.00" r="1.9" fill="#fff" stroke="#222" stroke-width="0.6"/>
<circle cx="136.20" cy="422.70" r="1.9" fill="#fff" stroke="#222" stroke-width="0.6"/>
<circle cx="127.40" cy="427.70" r="1.9" fill="#fff" stroke="#222" stroke-width="0.6"/>
<circle cx="133.20" cy="429.50" r="1.9" fill="#fff" stroke="#222" stroke-width="0.6"/>
<circle cx="130.20" cy="439.80" r="1.9" fill="#fff" stroke="#222" stroke-width="0.6"/>
<circle cx="139.40" cy="448.00" r="1.9" fill="#fff" stroke="#222" stroke-width="0.6"/>
<circle cx="152.70" cy="494.90" r="1.9" fill="#fff" stroke="#222" stroke-width="0.6"/>
<circle cx="159.30" cy="501.70" r="1.9" fill="#fff" stroke="#222" stroke-width="0.6"/>
<circle cx="161.90" cy="504.40" r="1.9" fill="#fff" stroke="#222" stroke-width="0.6"/>
<circle cx="149.80" cy="516.90" r="1.9" fill="#fff" stroke="#222" stroke-width="0.6"/>
<circle cx="156.30" cy="526.30" r="1.9" fill="#fff" stroke="#222" stroke-width="0.6"/>
<circle cx="164.90" cy="526.30" r="1.9" fill="#fff" stroke="#222" stroke-width="0.6"/>
<rect x="183.90" y="430.30" width="23.00" height="166.20" fill="#ffffff" stroke="#333" stroke-width="0.6"/>
<rect x="206.90" y="542.30" width="23.00" height="54.20" fill="#ebcfa8" stroke="#333" stroke-width="0.6"/>
<line x1="195.40" y1="415.50" x2="195.40" y2="444.80" stroke="#222" stroke-width="0.7" />
<line x1="186.40" y1="415.50" x2="204.40" y2="415.50" stroke="#222" stroke-width="0.7" />
<line x1="186.40" y1="444.80" x2="204.40" y2="444.80" stroke="#222" stroke-width="0.7" />
<line x1="218.40" y1="524.30" x2="218.40" y2="560.10" stroke="#222" stroke-width="0.7" />
<line x1="209.40" y1="524.30" x2="227.40" y2="524.30" stroke="#222" stroke-width="0.7" />
<line x1="209.40" y1="560.10" x2="227.40" y2="560.10" stroke="#222" stroke-width="0.7" />
<circle cx="196.90" cy="416.10" r="1.9" fill="#fff" stroke="#222" stroke-width="0.6"/>
<circle cx="187.70" cy="420.50" r="1.9" fill="#fff" stroke="#222" stroke-width="0.6"/>
<circle cx="193.60" cy="422.90" r="1.9" fill="#fff" stroke="#222" stroke-width="0.6"/>
<circle cx="202.80" cy="422.90" r="1.9" fill="#fff" stroke="#222" stroke-width="0.6"/>
<circle cx="190.70" cy="448.40" r="1.9" fill="#fff" stroke="#222" stroke-width="0.6"/>
<circle cx="200.20" cy="449.90" r="1.9" fill="#fff" stroke="#222" stroke-width="0.6"/>
<circle cx="222.70" cy="523.40" r="1.9" fill="#fff" stroke="#222" stroke-width="0.6"/>
<circle cx="226.00" cy="523.10" r="1.9" fill="#fff" stroke="#222" stroke-width="0.6"/>
<circle cx="219.40" cy="534.30" r="1.9" fill="#fff" stroke="#222" stroke-width="0.6"/>
<circle cx="210.50" cy="554.50" r="1.9" fill="#fff" stroke="#222" stroke-width="0.6"/>
<circle cx="216.80" cy="554.50" r="1.9" fill="#fff" stroke="#222" stroke-width="0.6"/>
<circle cx="213.50" cy="564.30" r="1.9" fill="#fff" stroke="#222" stroke-width="0.6"/>
<rect x="244.40" y="430.30" width="23.00" height="166.20" fill="#ffffff" stroke="#333" stroke-width="0.6"/>
<rect x="267.40" y="560.10" width="23.00" height="36.40" fill="#ebcfa8" stroke="#333" stroke-width="0.6"/>
<line x1="255.90" y1="416.40" x2="255.90" y2="443.90" stroke="#222" stroke-width="0.7" />
<line x1="246.90" y1="416.40" x2="264.90" y2="416.40" stroke="#222" stroke-width="0.7" />
<line x1="246.90" y1="443.90" x2="264.90" y2="443.90" stroke="#222" stroke-width="0.7" />
<line x1="278.90" y1="545.30" x2="278.90" y2="575.50" stroke="#222" stroke-width="0.7" />
<line x1="269.90" y1="545.30" x2="287.90" y2="545.30" stroke="#222" stroke-width="0.7" />
<line x1="269.90" y1="575.50" x2="287.90" y2="575.50" stroke="#222" stroke-width="0.7" />
<circle cx="263.60" cy="408.10" r="1.9" fill="#fff" stroke="#222" stroke-width="0.6"/>
<circle cx="257.70" cy="418.20" r="1.9" fill="#fff" stroke="#222" stroke-width="0.6"/>
<circle cx="251.70" cy="435.60" r="1.9" fill="#fff" stroke="#222" stroke-width="0.6"/>
<circle cx="260.60" cy="437.10" r="1.9" fill="#fff" stroke="#222" stroke-width="0.6"/>
<circle cx="248.50" cy="439.50" r="1.9" fill="#fff" stroke="#222" stroke-width="0.6"/>
<circle cx="254.70" cy="442.20" r="1.9" fill="#fff" stroke="#222" stroke-width="0.6"/>
<circle cx="277.20" cy="539.70" r="1.9" fill="#fff" stroke="#222" stroke-width="0.6"/>
<circle cx="286.40" cy="551.20" r="1.9" fill="#fff" stroke="#222" stroke-width="0.6"/>
<circle cx="274.30" cy="554.50" r="1.9" fill="#fff" stroke="#222" stroke-width="0.6"/>
<circle cx="271.30" cy="566.60" r="1.9" fill="#fff" stroke="#222" stroke-width="0.6"/>
<circle cx="283.50" cy="570.20" r="1.9" fill="#fff" stroke="#222" stroke-width="0.6"/>
<circle cx="280.50" cy="581.50" r="1.9" fill="#fff" stroke="#222" stroke-width="0.6"/>
<line x1="49.20" y1="346.50" x2="49.20" y2="597.50" stroke="#111" stroke-width="1.8" />
<line x1="48.30" y1="596.70" x2="303.60" y2="596.70" stroke="#111" stroke-width="1.75" />
<line x1="44.70" y1="347.20" x2="49.00" y2="347.20" stroke="#444" stroke-width="1.0" />
<text x="42.50" y="351.60" font-size="12.5" text-anchor="end" fill="#111">1.5</text>
<line x1="44.70" y1="430.30" x2="49.00" y2="430.30" stroke="#444" stroke-width="1.0" />
<text x="42.50" y="434.70" font-size="12.5" text-anchor="end" fill="#111">1.0</text>
<line x1="44.70" y1="513.40" x2="49.00" y2="513.40" stroke="#444" stroke-width="1.0" />
<text x="42.50" y="517.80" font-size="12.5" text-anchor="end" fill="#111">0.5</text>
<line x1="44.70" y1="596.50" x2="49.00" y2="596.50" stroke="#444" stroke-width="1.0" />
<text x="42.50" y="600.90" font-size="12.5" text-anchor="end" fill="#111">0.0</text>
<line x1="85.80" y1="596.70" x2="85.80" y2="601.00" stroke="#111" stroke-width="1.3" />
<text x="84.50" y="612.30" font-size="13" text-anchor="middle" fill="#111">0 µM</text>
<line x1="146.40" y1="596.70" x2="146.40" y2="601.00" stroke="#111" stroke-width="1.3" />
<text x="145.10" y="612.30" font-size="13" text-anchor="middle" fill="#111">100 µM</text>
<line x1="206.90" y1="596.70" x2="206.90" y2="601.00" stroke="#111" stroke-width="1.3" />
<text x="205.60" y="612.30" font-size="13" text-anchor="middle" fill="#111">200 µM</text>
<line x1="267.40" y1="596.70" x2="267.40" y2="601.00" stroke="#111" stroke-width="1.3" />
<text x="266.10" y="612.30" font-size="13" text-anchor="middle" fill="#111">300 µM</text>
<text x="299.30" y="612.30" font-size="13" text-anchor="start" fill="#111">arginine</text>
<text x="16.20" y="471.50" font-size="11.8" text-anchor="middle" fill="#111" transform="rotate(-90 16.20 471.50)">Relative CFU</text>
<line x1="97.50" y1="363.00" x2="278.70" y2="363.00" stroke="#999" stroke-width="0.7" />
<text x="158.60" y="362.90" font-size="14.8" text-anchor="start" fill="#111">***</text>
<text x="178.50" y="358.10" font-size="8.5" text-anchor="start" fill="#111"><tspan font-style="italic">p</tspan> &lt; 0.001</text>
<line x1="157.00" y1="381.30" x2="217.70" y2="381.30" stroke="#999" stroke-width="0.7" />
<text x="161.80" y="380.40" font-size="14.8" text-anchor="start" fill="#111">**</text>
<text x="178.50" y="375.70" font-size="8.5" text-anchor="start" fill="#111"><tspan font-style="italic">p</tspan> = 0.004</text>
<line x1="97.50" y1="391.40" x2="157.80" y2="391.40" stroke="#999" stroke-width="0.7" />
<text x="95.00" y="390.10" font-size="14.8" text-anchor="start" fill="#111">***</text>
<text x="114.80" y="385.60" font-size="8.5" text-anchor="start" fill="#111"><tspan font-style="italic">p</tspan> &lt; 0.001</text>
<line x1="217.70" y1="391.40" x2="277.80" y2="391.40" stroke="#999" stroke-width="0.7" />
<text x="246.90" y="389.40" font-size="9.7" text-anchor="middle" fill="#111">ns</text>
<text x="366.50" y="293.00" font-size="14" text-anchor="start" fill="#111">C</text>
<rect x="392.20" y="315.20" width="17.30" height="17.30" fill="#ffffff" stroke="#222" stroke-width="1.0"/>
<text x="413.20" y="327.70" font-size="13.1" text-anchor="start" fill="#111">+ 0 µM arginine</text>
<rect x="520.60" y="315.20" width="17.30" height="17.30" fill="#e2c5a0" stroke="#222" stroke-width="1.0"/>
<text x="541.50" y="327.70" font-size="13.1" text-anchor="start" fill="#111">+ 200 µM arginine</text>
<rect x="432.30" y="469.30" width="20.20" height="127.70" fill="#ffffff" stroke="#333" stroke-width="0.6"/>
<rect x="452.50" y="542.98" width="20.20" height="54.02" fill="#e9ca98" stroke="#4a3a22" stroke-width="0.6"/>
<line x1="442.40" y1="457.41" x2="442.40" y2="481.36" stroke="#222" stroke-width="0.7" />
<line x1="432.40" y1="457.41" x2="452.40" y2="457.41" stroke="#222" stroke-width="0.7" />
<line x1="432.40" y1="481.36" x2="452.40" y2="481.36" stroke="#222" stroke-width="0.7" />
<line x1="462.60" y1="525.14" x2="462.60" y2="560.49" stroke="#222" stroke-width="0.7" />
<line x1="452.60" y1="525.14" x2="472.60" y2="525.14" stroke="#222" stroke-width="0.7" />
<line x1="452.60" y1="560.49" x2="472.60" y2="560.49" stroke="#222" stroke-width="0.7" />
<circle cx="442.40" cy="457.70" r="1.2" fill="#fff" stroke="#555" stroke-width="0.5"/>
<circle cx="442.40" cy="460.60" r="1.2" fill="#fff" stroke="#555" stroke-width="0.5"/>
<circle cx="442.40" cy="464.40" r="1.2" fill="#fff" stroke="#555" stroke-width="0.5"/>
<circle cx="442.40" cy="471.80" r="1.2" fill="#fff" stroke="#555" stroke-width="0.5"/>
<circle cx="442.40" cy="491.40" r="1.2" fill="#fff" stroke="#555" stroke-width="0.5"/>
<circle cx="462.60" cy="523.50" r="1.2" fill="#e9ca98" stroke="#7a5a28" stroke-width="0.5"/>
<circle cx="462.60" cy="535.20" r="1.2" fill="#e9ca98" stroke="#7a5a28" stroke-width="0.5"/>
<circle cx="462.60" cy="555.30" r="1.2" fill="#e9ca98" stroke="#7a5a28" stroke-width="0.5"/>
<circle cx="462.60" cy="564.40" r="1.2" fill="#e9ca98" stroke="#7a5a28" stroke-width="0.5"/>
<rect x="499.00" y="445.02" width="20.20" height="151.98" fill="#ffffff" stroke="#333" stroke-width="0.6"/>
<rect x="519.20" y="430.31" width="20.20" height="166.69" fill="#e9ca98" stroke="#4a3a22" stroke-width="0.6"/>
<line x1="509.10" y1="417.26" x2="509.10" y2="473.27" stroke="#222" stroke-width="0.7" />
<line x1="499.10" y1="417.26" x2="519.10" y2="417.26" stroke="#222" stroke-width="0.7" />
<line x1="499.10" y1="473.27" x2="519.10" y2="473.27" stroke="#222" stroke-width="0.7" />
<line x1="529.30" y1="378.44" x2="529.30" y2="482.02" stroke="#222" stroke-width="0.7" />
<line x1="519.30" y1="378.44" x2="539.30" y2="378.44" stroke="#222" stroke-width="0.7" />
<line x1="519.30" y1="482.02" x2="539.30" y2="482.02" stroke="#222" stroke-width="0.7" />
<circle cx="509.10" cy="404.50" r="1.2" fill="#fff" stroke="#555" stroke-width="0.5"/>
<circle cx="509.10" cy="417.40" r="1.2" fill="#fff" stroke="#555" stroke-width="0.5"/>
<circle cx="509.10" cy="449.20" r="1.2" fill="#fff" stroke="#555" stroke-width="0.5"/>
<circle cx="509.10" cy="462.10" r="1.2" fill="#fff" stroke="#555" stroke-width="0.5"/>
<circle cx="509.10" cy="467.80" r="1.2" fill="#fff" stroke="#555" stroke-width="0.5"/>
<circle cx="509.10" cy="470.80" r="1.2" fill="#fff" stroke="#555" stroke-width="0.5"/>
<circle cx="529.30" cy="363.60" r="1.2" fill="#e9ca98" stroke="#7a5a28" stroke-width="0.5"/>
<circle cx="529.30" cy="403.30" r="1.2" fill="#e9ca98" stroke="#7a5a28" stroke-width="0.5"/>
<circle cx="529.30" cy="418.90" r="1.2" fill="#e9ca98" stroke="#7a5a28" stroke-width="0.5"/>
<circle cx="529.30" cy="423.90" r="1.2" fill="#e9ca98" stroke="#7a5a28" stroke-width="0.5"/>
<circle cx="529.30" cy="457.90" r="1.2" fill="#e9ca98" stroke="#7a5a28" stroke-width="0.5"/>
<circle cx="529.30" cy="516.00" r="1.2" fill="#e9ca98" stroke="#7a5a28" stroke-width="0.5"/>
<rect x="566.20" y="482.52" width="20.20" height="114.48" fill="#ffffff" stroke="#333" stroke-width="0.6"/>
<rect x="586.40" y="517.21" width="20.20" height="79.79" fill="#e9ca98" stroke="#4a3a22" stroke-width="0.6"/>
<line x1="576.30" y1="462.69" x2="576.30" y2="502.67" stroke="#222" stroke-width="0.7" />
<line x1="566.30" y1="462.69" x2="586.30" y2="462.69" stroke="#222" stroke-width="0.7" />
<line x1="566.30" y1="502.67" x2="586.30" y2="502.67" stroke="#222" stroke-width="0.7" />
<line x1="596.50" y1="506.80" x2="596.50" y2="527.62" stroke="#222" stroke-width="0.7" />
<line x1="586.50" y1="506.80" x2="606.50" y2="506.80" stroke="#222" stroke-width="0.7" />
<line x1="586.50" y1="527.62" x2="606.50" y2="527.62" stroke="#222" stroke-width="0.7" />
<circle cx="576.30" cy="458.40" r="1.2" fill="#fff" stroke="#555" stroke-width="0.5"/>
<circle cx="576.30" cy="467.10" r="1.2" fill="#fff" stroke="#555" stroke-width="0.5"/>
<circle cx="576.30" cy="469.80" r="1.2" fill="#fff" stroke="#555" stroke-width="0.5"/>
<circle cx="576.30" cy="489.90" r="1.2" fill="#fff" stroke="#555" stroke-width="0.5"/>
<circle cx="576.30" cy="503.60" r="1.2" fill="#fff" stroke="#555" stroke-width="0.5"/>
<circle cx="576.30" cy="506.00" r="1.2" fill="#fff" stroke="#555" stroke-width="0.5"/>
<circle cx="596.50" cy="503.30" r="1.2" fill="#e9ca98" stroke="#7a5a28" stroke-width="0.5"/>
<circle cx="596.50" cy="507.00" r="1.2" fill="#e9ca98" stroke="#7a5a28" stroke-width="0.5"/>
<circle cx="596.50" cy="512.00" r="1.2" fill="#e9ca98" stroke="#7a5a28" stroke-width="0.5"/>
<circle cx="596.50" cy="522.00" r="1.2" fill="#e9ca98" stroke="#7a5a28" stroke-width="0.5"/>
<circle cx="596.50" cy="527.00" r="1.2" fill="#e9ca98" stroke="#7a5a28" stroke-width="0.5"/>
<circle cx="596.50" cy="531.00" r="1.2" fill="#e9ca98" stroke="#7a5a28" stroke-width="0.5"/>
<line x1="412.40" y1="349.50" x2="412.40" y2="597.60" stroke="#111" stroke-width="1.55" />
<line x1="411.60" y1="596.80" x2="626.00" y2="596.80" stroke="#111" stroke-width="1.6" />
<line x1="407.90" y1="349.20" x2="412.00" y2="349.20" stroke="#444" stroke-width="1.0" />
<text x="405.30" y="353.60" font-size="12.5" text-anchor="end" fill="#111">1.50</text>
<line x1="407.90" y1="390.50" x2="412.00" y2="390.50" stroke="#444" stroke-width="1.0" />
<text x="405.30" y="394.90" font-size="12.5" text-anchor="end" fill="#111">1.25</text>
<line x1="407.90" y1="431.80" x2="412.00" y2="431.80" stroke="#444" stroke-width="1.0" />
<text x="405.30" y="436.20" font-size="12.5" text-anchor="end" fill="#111">1.00</text>
<line x1="407.90" y1="473.10" x2="412.00" y2="473.10" stroke="#444" stroke-width="1.0" />
<text x="405.30" y="477.50" font-size="12.5" text-anchor="end" fill="#111">0.75</text>
<line x1="407.90" y1="514.40" x2="412.00" y2="514.40" stroke="#444" stroke-width="1.0" />
<text x="405.30" y="518.80" font-size="12.5" text-anchor="end" fill="#111">0.50</text>
<line x1="407.90" y1="555.70" x2="412.00" y2="555.70" stroke="#444" stroke-width="1.0" />
<text x="405.30" y="560.10" font-size="12.5" text-anchor="end" fill="#111">0.25</text>
<line x1="407.90" y1="597.00" x2="412.00" y2="597.00" stroke="#444" stroke-width="1.0" />
<text x="405.30" y="601.40" font-size="12.5" text-anchor="end" fill="#111">0.00</text>
<line x1="452.50" y1="596.80" x2="452.50" y2="601.20" stroke="#111" stroke-width="1.3" />
<line x1="519.20" y1="596.80" x2="519.20" y2="601.20" stroke="#111" stroke-width="1.3" />
<line x1="586.40" y1="596.80" x2="586.40" y2="601.20" stroke="#111" stroke-width="1.3" />
<text x="462.30" y="606.80" font-size="14" text-anchor="end" fill="#111" transform="rotate(-45 462.30 606.80)">WT</text>
<text x="529.00" y="606.80" font-size="14" text-anchor="end" fill="#111" transform="rotate(-45 529.00 606.80)"><tspan font-style="italic">artP</tspan>::Tn</text>
<text x="596.20" y="606.80" font-size="14" text-anchor="end" fill="#111" font-style="italic" transform="rotate(-45 596.20 606.80)"><tspan font-style="italic">artP</tspan><tspan dy="-5" font-size="8">+</tspan><tspan dy="5" font-size="1">&#8203;</tspan></text>
<text x="374.40" y="473.80" font-size="11.2" text-anchor="middle" fill="#111" transform="rotate(-90 374.40 473.80)">Relative CFU (+LD / −LD)</text>
<line x1="442.30" y1="425.50" x2="462.40" y2="425.50" stroke="#999" stroke-width="0.7" />
<text x="453.70" y="425.40" font-size="14.8" text-anchor="middle" fill="#111">***</text>
<text x="451.00" y="408.50" font-size="8.5" text-anchor="middle" fill="#111"><tspan font-style="italic">p</tspan> &lt; 0.001</text>
<line x1="576.20" y1="425.80" x2="596.00" y2="425.80" stroke="#999" stroke-width="0.7" />
<text x="587.00" y="426.20" font-size="14.8" text-anchor="middle" fill="#111">**</text>
<text x="585.00" y="410.30" font-size="8.5" text-anchor="middle" fill="#111"><tspan font-style="italic">p</tspan> = 0.002</text>
<text x="5.00" y="660.00" font-size="14" text-anchor="start" fill="#111">D</text>
<rect x="69.40" y="776.74" width="20.20" height="82.06" fill="#bdbdbd" stroke="#555" stroke-width="0.8"/>
<line x1="79.50" y1="766.52" x2="79.50" y2="788.41" stroke="#222" stroke-width="0.8" />
<line x1="74.00" y1="766.52" x2="85.00" y2="766.52" stroke="#222" stroke-width="0.8" />
<line x1="74.00" y1="788.41" x2="85.00" y2="788.41" stroke="#222" stroke-width="0.8" />
<circle cx="72.70" cy="773.40" r="1.9" fill="#cfcfcf" stroke="#555" stroke-width="0.6"/>
<circle cx="86.10" cy="767.90" r="1.9" fill="#cfcfcf" stroke="#555" stroke-width="0.6"/>
<circle cx="79.40" cy="788.30" r="1.9" fill="#cfcfcf" stroke="#555" stroke-width="0.6"/>
<rect x="102.30" y="750.19" width="20.20" height="108.61" fill="#bdbdbd" stroke="#555" stroke-width="0.8"/>
<line x1="112.40" y1="745.53" x2="112.40" y2="755.02" stroke="#222" stroke-width="0.8" />
<line x1="106.90" y1="745.53" x2="117.90" y2="745.53" stroke="#222" stroke-width="0.8" />
<line x1="106.90" y1="755.02" x2="117.90" y2="755.02" stroke="#222" stroke-width="0.8" />
<circle cx="119.10" cy="744.20" r="1.9" fill="#cfcfcf" stroke="#555" stroke-width="0.6"/>
<circle cx="106.00" cy="752.10" r="1.9" fill="#cfcfcf" stroke="#555" stroke-width="0.6"/>
<circle cx="112.70" cy="752.10" r="1.9" fill="#cfcfcf" stroke="#555" stroke-width="0.6"/>
<rect x="135.60" y="737.64" width="20.20" height="121.16" fill="#bdbdbd" stroke="#555" stroke-width="0.8"/>
<line x1="145.70" y1="726.22" x2="145.70" y2="748.74" stroke="#222" stroke-width="0.8" />
<line x1="140.20" y1="726.22" x2="151.20" y2="726.22" stroke="#222" stroke-width="0.8" />
<line x1="140.20" y1="748.74" x2="151.20" y2="748.74" stroke="#222" stroke-width="0.8" />
<circle cx="146.00" cy="725.00" r="1.9" fill="#cfcfcf" stroke="#555" stroke-width="0.6"/>
<circle cx="139.30" cy="744.50" r="1.9" fill="#cfcfcf" stroke="#555" stroke-width="0.6"/>
<circle cx="152.70" cy="742.20" r="1.9" fill="#cfcfcf" stroke="#555" stroke-width="0.6"/>
<rect x="168.90" y="726.86" width="20.20" height="131.94" fill="#bdbdbd" stroke="#555" stroke-width="0.8"/>
<line x1="179.00" y1="725.66" x2="179.00" y2="728.07" stroke="#222" stroke-width="0.8" />
<line x1="173.50" y1="725.66" x2="184.50" y2="725.66" stroke="#222" stroke-width="0.8" />
<line x1="173.50" y1="728.07" x2="184.50" y2="728.07" stroke="#222" stroke-width="0.8" />
<circle cx="172.30" cy="727.00" r="1.9" fill="#cfcfcf" stroke="#555" stroke-width="0.6"/>
<circle cx="179.00" cy="727.30" r="1.9" fill="#cfcfcf" stroke="#555" stroke-width="0.6"/>
<circle cx="185.70" cy="725.00" r="1.9" fill="#cfcfcf" stroke="#555" stroke-width="0.6"/>
<line x1="59.80" y1="697.40" x2="59.80" y2="859.50" stroke="#111" stroke-width="1.55" />
<line x1="59.00" y1="858.80" x2="199.50" y2="858.80" stroke="#111" stroke-width="1.55" />
<line x1="55.20" y1="697.90" x2="59.80" y2="697.90" stroke="#333" stroke-width="1.0" />
<text x="54.00" y="702.70" font-size="13.5" text-anchor="end" fill="#111">2.0</text>
<line x1="55.20" y1="738.12" x2="59.80" y2="738.12" stroke="#333" stroke-width="1.0" />
<text x="54.00" y="742.92" font-size="13.5" text-anchor="end" fill="#111">1.5</text>
<line x1="55.20" y1="778.35" x2="59.80" y2="778.35" stroke="#333" stroke-width="1.0" />
<text x="54.00" y="783.15" font-size="13.5" text-anchor="end" fill="#111">1.0</text>
<line x1="55.20" y1="818.57" x2="59.80" y2="818.57" stroke="#333" stroke-width="1.0" />
<text x="54.00" y="823.37" font-size="13.5" text-anchor="end" fill="#111">0.5</text>
<line x1="55.20" y1="858.80" x2="59.80" y2="858.80" stroke="#333" stroke-width="1.0" />
<text x="54.00" y="863.60" font-size="13.5" text-anchor="end" fill="#111">0.0</text>
<line x1="79.50" y1="858.80" x2="79.50" y2="863.00" stroke="#111" stroke-width="1.3" />
<text x="79.50" y="875.20" font-size="13.5" text-anchor="middle" fill="#111">0 h</text>
<line x1="112.40" y1="858.80" x2="112.40" y2="863.00" stroke="#111" stroke-width="1.3" />
<text x="112.40" y="875.20" font-size="13.5" text-anchor="middle" fill="#111">2 h</text>
<line x1="145.70" y1="858.80" x2="145.70" y2="863.00" stroke="#111" stroke-width="1.3" />
<text x="145.70" y="875.20" font-size="13.5" text-anchor="middle" fill="#111">4 h</text>
<line x1="179.00" y1="858.80" x2="179.00" y2="863.00" stroke="#111" stroke-width="1.3" />
<text x="179.00" y="875.20" font-size="13.5" text-anchor="middle" fill="#111">6 h</text>
<text x="15.00" y="780.00" font-size="11" text-anchor="middle" fill="#111" transform="rotate(-90 15.00 780.00)">Intracellular arginine</text>
<text x="29.00" y="780.00" font-size="11" text-anchor="middle" fill="#111" transform="rotate(-90 29.00 780.00)">(µg / mg protein)</text>
<line x1="79.70" y1="727.60" x2="112.40" y2="727.60" stroke="#aaa" stroke-width="1.2" />
<text x="95.80" y="729.50" font-size="9.5" text-anchor="middle" fill="#111">*</text>
<text x="77.40" y="720.30" font-size="8.8" text-anchor="start" fill="#111"><tspan font-style="italic">p</tspan> = 0.016</text>
<line x1="79.70" y1="712.40" x2="146.90" y2="712.40" stroke="#aaa" stroke-width="1.2" />
<text x="113.30" y="714.50" font-size="9.5" text-anchor="middle" fill="#111">**</text>
<text x="94.90" y="705.10" font-size="8.8" text-anchor="start" fill="#111"><tspan font-style="italic">p</tspan> = 0.005</text>
<line x1="79.70" y1="697.80" x2="179.00" y2="697.80" stroke="#aaa" stroke-width="1.2" />
<text x="129.30" y="699.80" font-size="9.5" text-anchor="middle" fill="#111">**</text>
<text x="110.90" y="690.20" font-size="8.8" text-anchor="start" fill="#111"><tspan font-style="italic">p</tspan> = 0.007</text>
<line x1="112.40" y1="682.90" x2="179.00" y2="682.90" stroke="#aaa" stroke-width="1.2" />
<text x="145.40" y="685.00" font-size="9.5" text-anchor="middle" fill="#111">**</text>
<text x="127.60" y="675.60" font-size="8.8" text-anchor="start" fill="#111"><tspan font-style="italic">p</tspan> = 0.004</text>
<text x="208.60" y="660.00" font-size="14" text-anchor="start" fill="#111">E</text>
<rect x="244.80" y="651.60" width="17.50" height="17.50" fill="#ffffff" stroke="#888" stroke-width="1.0"/>
<text x="267.30" y="664.20" font-size="13.8" text-anchor="start" fill="#111">0 h</text>
<rect x="311.20" y="651.60" width="17.50" height="17.50" fill="#de8380" stroke="#8a4a4a" stroke-width="1.0"/>
<text x="333.70" y="664.20" font-size="13.8" text-anchor="start" fill="#111">2 h</text>
<rect x="374.00" y="651.60" width="17.50" height="17.50" fill="#a2d28a" stroke="#5a8a4a" stroke-width="1.0"/>
<text x="396.30" y="664.20" font-size="13.8" text-anchor="start" fill="#111">4 h</text>
<rect x="438.80" y="651.60" width="17.50" height="17.50" fill="#7b7ab6" stroke="#44447a" stroke-width="1.0"/>
<text x="461.60" y="664.20" font-size="13.8" text-anchor="start" fill="#111">6 h</text>
<rect x="248.00" y="829.05" width="9.20" height="25.75" fill="#ffffff" stroke="#555" stroke-width="0.7"/>
<rect x="257.20" y="799.44" width="9.20" height="55.36" fill="#de8380" stroke="#333" stroke-width="0.7"/>
<rect x="266.40" y="742.27" width="9.20" height="112.53" fill="#a2d28a" stroke="#333" stroke-width="0.7"/>
<rect x="275.60" y="802.27" width="9.20" height="52.53" fill="#7b7ab6" stroke="#333" stroke-width="0.7"/>
<rect x="296.60" y="828.28" width="9.20" height="26.52" fill="#ffffff" stroke="#555" stroke-width="0.7"/>
<rect x="305.80" y="748.71" width="9.20" height="106.09" fill="#de8380" stroke="#333" stroke-width="0.7"/>
<rect x="315.00" y="715.23" width="9.20" height="139.57" fill="#a2d28a" stroke="#333" stroke-width="0.7"/>
<rect x="324.20" y="740.21" width="9.20" height="114.59" fill="#7b7ab6" stroke="#333" stroke-width="0.7"/>
<rect x="345.20" y="829.05" width="9.20" height="25.75" fill="#ffffff" stroke="#555" stroke-width="0.7"/>
<rect x="354.40" y="782.96" width="9.20" height="71.84" fill="#de8380" stroke="#333" stroke-width="0.7"/>
<rect x="363.60" y="787.08" width="9.20" height="67.72" fill="#a2d28a" stroke="#333" stroke-width="0.7"/>
<rect x="372.80" y="802.27" width="9.20" height="52.53" fill="#7b7ab6" stroke="#333" stroke-width="0.7"/>
<rect x="393.80" y="829.05" width="9.20" height="25.75" fill="#ffffff" stroke="#555" stroke-width="0.7"/>
<rect x="403.00" y="766.73" width="9.20" height="88.07" fill="#de8380" stroke="#333" stroke-width="0.7"/>
<rect x="412.20" y="772.40" width="9.20" height="82.40" fill="#a2d28a" stroke="#333" stroke-width="0.7"/>
<rect x="421.40" y="821.58" width="9.20" height="33.22" fill="#7b7ab6" stroke="#333" stroke-width="0.7"/>
<rect x="442.40" y="829.05" width="9.20" height="25.75" fill="#ffffff" stroke="#555" stroke-width="0.7"/>
<rect x="451.60" y="813.08" width="9.20" height="41.72" fill="#de8380" stroke="#333" stroke-width="0.7"/>
<rect x="460.80" y="795.57" width="9.20" height="59.23" fill="#a2d28a" stroke="#333" stroke-width="0.7"/>
<rect x="470.00" y="819.78" width="9.20" height="35.02" fill="#7b7ab6" stroke="#333" stroke-width="0.7"/>
<rect x="491.00" y="829.05" width="9.20" height="25.75" fill="#ffffff" stroke="#555" stroke-width="0.7"/>
<rect x="500.20" y="811.28" width="9.20" height="43.52" fill="#de8380" stroke="#333" stroke-width="0.7"/>
<rect x="509.40" y="824.93" width="9.20" height="29.87" fill="#a2d28a" stroke="#333" stroke-width="0.7"/>
<rect x="518.60" y="847.33" width="9.20" height="7.47" fill="#7b7ab6" stroke="#333" stroke-width="0.7"/>
<rect x="539.60" y="829.05" width="9.20" height="25.75" fill="#ffffff" stroke="#555" stroke-width="0.7"/>
<rect x="548.80" y="743.56" width="9.20" height="111.24" fill="#de8380" stroke="#333" stroke-width="0.7"/>
<rect x="558.00" y="746.91" width="9.20" height="107.89" fill="#a2d28a" stroke="#333" stroke-width="0.7"/>
<rect x="567.20" y="821.32" width="9.20" height="33.48" fill="#7b7ab6" stroke="#333" stroke-width="0.7"/>
<rect x="588.20" y="829.05" width="9.20" height="25.75" fill="#ffffff" stroke="#555" stroke-width="0.7"/>
<rect x="597.40" y="781.93" width="9.20" height="72.87" fill="#de8380" stroke="#333" stroke-width="0.7"/>
<rect x="606.60" y="777.81" width="9.20" height="76.99" fill="#a2d28a" stroke="#333" stroke-width="0.7"/>
<rect x="615.80" y="812.05" width="9.20" height="42.75" fill="#7b7ab6" stroke="#333" stroke-width="0.7"/>
<rect x="636.80" y="829.05" width="9.20" height="25.75" fill="#ffffff" stroke="#555" stroke-width="0.7"/>
<rect x="646.00" y="776.00" width="9.20" height="78.79" fill="#de8380" stroke="#333" stroke-width="0.7"/>
<rect x="655.20" y="786.30" width="9.20" height="68.50" fill="#a2d28a" stroke="#333" stroke-width="0.7"/>
<rect x="664.40" y="811.54" width="9.20" height="43.26" fill="#7b7ab6" stroke="#333" stroke-width="0.7"/>
<circle cx="252.60" cy="825.57" r="1.6" fill="#fff" stroke="#777" stroke-width="0.55"/>
<circle cx="252.60" cy="829.05" r="1.6" fill="#fff" stroke="#777" stroke-width="0.55"/>
<circle cx="252.60" cy="832.53" r="1.6" fill="#fff" stroke="#777" stroke-width="0.55"/>
<line x1="252.60" y1="825.19" x2="252.60" y2="832.91" stroke="#111" stroke-width="1.0" />
<line x1="248.00" y1="825.19" x2="257.20" y2="825.19" stroke="#111" stroke-width="1.0" />
<line x1="248.00" y1="832.91" x2="257.20" y2="832.91" stroke="#111" stroke-width="1.0" />
<circle cx="261.80" cy="789.98" r="1.6" fill="#de7b78" stroke="#8a3a3a" stroke-width="0.55"/>
<circle cx="261.80" cy="800.98" r="1.6" fill="#de7b78" stroke="#8a3a3a" stroke-width="0.55"/>
<circle cx="261.80" cy="807.16" r="1.6" fill="#de7b78" stroke="#8a3a3a" stroke-width="0.55"/>
<line x1="261.80" y1="790.68" x2="261.80" y2="807.16" stroke="#111" stroke-width="1.0" />
<line x1="257.20" y1="790.68" x2="266.40" y2="790.68" stroke="#111" stroke-width="1.0" />
<line x1="257.20" y1="807.16" x2="266.40" y2="807.16" stroke="#111" stroke-width="1.0" />
<circle cx="271.00" cy="721.41" r="1.6" fill="#9edc84" stroke="#4a8a3a" stroke-width="0.55"/>
<circle cx="271.00" cy="745.98" r="1.6" fill="#9edc84" stroke="#4a8a3a" stroke-width="0.55"/>
<circle cx="271.00" cy="760.81" r="1.6" fill="#9edc84" stroke="#4a8a3a" stroke-width="0.55"/>
<line x1="271.00" y1="722.96" x2="271.00" y2="760.81" stroke="#111" stroke-width="1.0" />
<line x1="266.40" y1="722.96" x2="275.60" y2="722.96" stroke="#111" stroke-width="1.0" />
<line x1="266.40" y1="760.81" x2="275.60" y2="760.81" stroke="#111" stroke-width="1.0" />
<circle cx="280.20" cy="799.72" r="1.6" fill="#6a6ab8" stroke="#30307a" stroke-width="0.55"/>
<circle cx="280.20" cy="802.27" r="1.6" fill="#6a6ab8" stroke="#30307a" stroke-width="0.55"/>
<circle cx="280.20" cy="804.82" r="1.6" fill="#6a6ab8" stroke="#30307a" stroke-width="0.55"/>
<line x1="280.20" y1="799.44" x2="280.20" y2="805.10" stroke="#111" stroke-width="1.0" />
<line x1="275.60" y1="799.44" x2="284.80" y2="799.44" stroke="#111" stroke-width="1.0" />
<line x1="275.60" y1="805.10" x2="284.80" y2="805.10" stroke="#111" stroke-width="1.0" />
<circle cx="301.20" cy="819.93" r="1.6" fill="#fff" stroke="#777" stroke-width="0.55"/>
<circle cx="301.20" cy="829.72" r="1.6" fill="#fff" stroke="#777" stroke-width="0.55"/>
<circle cx="301.20" cy="835.49" r="1.6" fill="#fff" stroke="#777" stroke-width="0.55"/>
<line x1="301.20" y1="820.55" x2="301.20" y2="835.49" stroke="#111" stroke-width="1.0" />
<line x1="296.60" y1="820.55" x2="305.80" y2="820.55" stroke="#111" stroke-width="1.0" />
<line x1="296.60" y1="835.49" x2="305.80" y2="835.49" stroke="#111" stroke-width="1.0" />
<circle cx="310.40" cy="725.07" r="1.6" fill="#de7b78" stroke="#8a3a3a" stroke-width="0.55"/>
<circle cx="310.40" cy="753.04" r="1.6" fill="#de7b78" stroke="#8a3a3a" stroke-width="0.55"/>
<circle cx="310.40" cy="770.34" r="1.6" fill="#de7b78" stroke="#8a3a3a" stroke-width="0.55"/>
<line x1="310.40" y1="726.82" x2="310.40" y2="770.34" stroke="#111" stroke-width="1.0" />
<line x1="305.80" y1="726.82" x2="315.00" y2="726.82" stroke="#111" stroke-width="1.0" />
<line x1="305.80" y1="770.34" x2="315.00" y2="770.34" stroke="#111" stroke-width="1.0" />
<circle cx="319.60" cy="703.28" r="1.6" fill="#9edc84" stroke="#4a8a3a" stroke-width="0.55"/>
<circle cx="319.60" cy="717.40" r="1.6" fill="#9edc84" stroke="#4a8a3a" stroke-width="0.55"/>
<circle cx="319.60" cy="726.05" r="1.6" fill="#9edc84" stroke="#4a8a3a" stroke-width="0.55"/>
<line x1="319.60" y1="704.16" x2="319.60" y2="726.05" stroke="#111" stroke-width="1.0" />
<line x1="315.00" y1="704.16" x2="324.20" y2="704.16" stroke="#111" stroke-width="1.0" />
<line x1="315.00" y1="726.05" x2="324.20" y2="726.05" stroke="#111" stroke-width="1.0" />
<circle cx="328.80" cy="712.12" r="1.6" fill="#6a6ab8" stroke="#30307a" stroke-width="0.55"/>
<circle cx="328.80" cy="745.41" r="1.6" fill="#6a6ab8" stroke="#30307a" stroke-width="0.55"/>
<circle cx="328.80" cy="766.22" r="1.6" fill="#6a6ab8" stroke="#30307a" stroke-width="0.55"/>
<line x1="328.80" y1="714.20" x2="328.80" y2="766.22" stroke="#111" stroke-width="1.0" />
<line x1="324.20" y1="714.20" x2="333.40" y2="714.20" stroke="#111" stroke-width="1.0" />
<line x1="324.20" y1="766.22" x2="333.40" y2="766.22" stroke="#111" stroke-width="1.0" />
<circle cx="349.80" cy="827.43" r="1.6" fill="#fff" stroke="#777" stroke-width="0.55"/>
<circle cx="349.80" cy="829.05" r="1.6" fill="#fff" stroke="#777" stroke-width="0.55"/>
<circle cx="349.80" cy="830.67" r="1.6" fill="#fff" stroke="#777" stroke-width="0.55"/>
<line x1="349.80" y1="827.25" x2="349.80" y2="830.85" stroke="#111" stroke-width="1.0" />
<line x1="345.20" y1="827.25" x2="354.40" y2="827.25" stroke="#111" stroke-width="1.0" />
<line x1="345.20" y1="830.85" x2="354.40" y2="830.85" stroke="#111" stroke-width="1.0" />
<circle cx="359.00" cy="776.28" r="1.6" fill="#de7b78" stroke="#8a3a3a" stroke-width="0.55"/>
<circle cx="359.00" cy="784.19" r="1.6" fill="#de7b78" stroke="#8a3a3a" stroke-width="0.55"/>
<circle cx="359.00" cy="789.14" r="1.6" fill="#de7b78" stroke="#8a3a3a" stroke-width="0.55"/>
<line x1="359.00" y1="776.78" x2="359.00" y2="789.14" stroke="#111" stroke-width="1.0" />
<line x1="354.40" y1="776.78" x2="363.60" y2="776.78" stroke="#111" stroke-width="1.0" />
<line x1="354.40" y1="789.14" x2="363.60" y2="789.14" stroke="#111" stroke-width="1.0" />
<circle cx="368.20" cy="780.96" r="1.6" fill="#9edc84" stroke="#4a8a3a" stroke-width="0.55"/>
<circle cx="368.20" cy="788.26" r="1.6" fill="#9edc84" stroke="#4a8a3a" stroke-width="0.55"/>
<circle cx="368.20" cy="793.00" r="1.6" fill="#9edc84" stroke="#4a8a3a" stroke-width="0.55"/>
<line x1="368.20" y1="781.41" x2="368.20" y2="793.00" stroke="#111" stroke-width="1.0" />
<line x1="363.60" y1="781.41" x2="372.80" y2="781.41" stroke="#111" stroke-width="1.0" />
<line x1="363.60" y1="793.00" x2="372.80" y2="793.00" stroke="#111" stroke-width="1.0" />
<circle cx="377.40" cy="790.87" r="1.6" fill="#6a6ab8" stroke="#30307a" stroke-width="0.55"/>
<circle cx="377.40" cy="804.18" r="1.6" fill="#6a6ab8" stroke="#30307a" stroke-width="0.55"/>
<circle cx="377.40" cy="811.80" r="1.6" fill="#6a6ab8" stroke="#30307a" stroke-width="0.55"/>
<line x1="377.40" y1="791.71" x2="377.40" y2="811.80" stroke="#111" stroke-width="1.0" />
<line x1="372.80" y1="791.71" x2="382.00" y2="791.71" stroke="#111" stroke-width="1.0" />
<line x1="372.80" y1="811.80" x2="382.00" y2="811.80" stroke="#111" stroke-width="1.0" />
<circle cx="398.40" cy="826.27" r="1.6" fill="#fff" stroke="#777" stroke-width="0.55"/>
<circle cx="398.40" cy="829.05" r="1.6" fill="#fff" stroke="#777" stroke-width="0.55"/>
<circle cx="398.40" cy="831.83" r="1.6" fill="#fff" stroke="#777" stroke-width="0.55"/>
<line x1="398.40" y1="825.96" x2="398.40" y2="832.14" stroke="#111" stroke-width="1.0" />
<line x1="393.80" y1="825.96" x2="403.00" y2="825.96" stroke="#111" stroke-width="1.0" />
<line x1="393.80" y1="832.14" x2="403.00" y2="832.14" stroke="#111" stroke-width="1.0" />
<circle cx="407.60" cy="757.56" r="1.6" fill="#de7b78" stroke="#8a3a3a" stroke-width="0.55"/>
<circle cx="407.60" cy="768.64" r="1.6" fill="#de7b78" stroke="#8a3a3a" stroke-width="0.55"/>
<circle cx="407.60" cy="776.26" r="1.6" fill="#de7b78" stroke="#8a3a3a" stroke-width="0.55"/>
<line x1="407.60" y1="758.24" x2="407.60" y2="776.26" stroke="#111" stroke-width="1.0" />
<line x1="403.00" y1="758.24" x2="412.20" y2="758.24" stroke="#111" stroke-width="1.0" />
<line x1="403.00" y1="776.26" x2="412.20" y2="776.26" stroke="#111" stroke-width="1.0" />
<circle cx="416.80" cy="749.04" r="1.6" fill="#9edc84" stroke="#4a8a3a" stroke-width="0.55"/>
<circle cx="416.80" cy="776.52" r="1.6" fill="#9edc84" stroke="#4a8a3a" stroke-width="0.55"/>
<circle cx="416.80" cy="793.00" r="1.6" fill="#9edc84" stroke="#4a8a3a" stroke-width="0.55"/>
<line x1="416.80" y1="750.77" x2="416.80" y2="793.00" stroke="#111" stroke-width="1.0" />
<line x1="412.20" y1="750.77" x2="421.40" y2="750.77" stroke="#111" stroke-width="1.0" />
<line x1="412.20" y1="793.00" x2="421.40" y2="793.00" stroke="#111" stroke-width="1.0" />
<circle cx="426.00" cy="808.23" r="1.6" fill="#6a6ab8" stroke="#30307a" stroke-width="0.55"/>
<circle cx="426.00" cy="823.95" r="1.6" fill="#6a6ab8" stroke="#30307a" stroke-width="0.55"/>
<circle cx="426.00" cy="833.43" r="1.6" fill="#6a6ab8" stroke="#30307a" stroke-width="0.55"/>
<line x1="426.00" y1="809.22" x2="426.00" y2="833.43" stroke="#111" stroke-width="1.0" />
<line x1="421.40" y1="809.22" x2="430.60" y2="809.22" stroke="#111" stroke-width="1.0" />
<line x1="421.40" y1="833.43" x2="430.60" y2="833.43" stroke="#111" stroke-width="1.0" />
<circle cx="447.00" cy="822.65" r="1.6" fill="#fff" stroke="#777" stroke-width="0.55"/>
<circle cx="447.00" cy="830.08" r="1.6" fill="#fff" stroke="#777" stroke-width="0.55"/>
<circle cx="447.00" cy="834.20" r="1.6" fill="#fff" stroke="#777" stroke-width="0.55"/>
<line x1="447.00" y1="823.13" x2="447.00" y2="834.20" stroke="#111" stroke-width="1.0" />
<line x1="442.40" y1="823.13" x2="451.60" y2="823.13" stroke="#111" stroke-width="1.0" />
<line x1="442.40" y1="834.20" x2="451.60" y2="834.20" stroke="#111" stroke-width="1.0" />
<circle cx="456.20" cy="805.02" r="1.6" fill="#de7b78" stroke="#8a3a3a" stroke-width="0.55"/>
<circle cx="456.20" cy="814.58" r="1.6" fill="#de7b78" stroke="#8a3a3a" stroke-width="0.55"/>
<circle cx="456.20" cy="820.55" r="1.6" fill="#de7b78" stroke="#8a3a3a" stroke-width="0.55"/>
<line x1="456.20" y1="805.62" x2="456.20" y2="820.55" stroke="#111" stroke-width="1.0" />
<line x1="451.60" y1="805.62" x2="460.80" y2="805.62" stroke="#111" stroke-width="1.0" />
<line x1="451.60" y1="820.55" x2="460.80" y2="820.55" stroke="#111" stroke-width="1.0" />
<circle cx="465.40" cy="785.56" r="1.6" fill="#9edc84" stroke="#4a8a3a" stroke-width="0.55"/>
<circle cx="465.40" cy="797.22" r="1.6" fill="#9edc84" stroke="#4a8a3a" stroke-width="0.55"/>
<circle cx="465.40" cy="803.81" r="1.6" fill="#9edc84" stroke="#4a8a3a" stroke-width="0.55"/>
<line x1="465.40" y1="786.30" x2="465.40" y2="803.81" stroke="#111" stroke-width="1.0" />
<line x1="460.80" y1="786.30" x2="470.00" y2="786.30" stroke="#111" stroke-width="1.0" />
<line x1="460.80" y1="803.81" x2="470.00" y2="803.81" stroke="#111" stroke-width="1.0" />
<circle cx="474.60" cy="818.62" r="1.6" fill="#6a6ab8" stroke="#30307a" stroke-width="0.55"/>
<circle cx="474.60" cy="819.78" r="1.6" fill="#6a6ab8" stroke="#30307a" stroke-width="0.55"/>
<circle cx="474.60" cy="820.94" r="1.6" fill="#6a6ab8" stroke="#30307a" stroke-width="0.55"/>
<line x1="474.60" y1="818.49" x2="474.60" y2="821.07" stroke="#111" stroke-width="1.0" />
<line x1="470.00" y1="818.49" x2="479.20" y2="818.49" stroke="#111" stroke-width="1.0" />
<line x1="470.00" y1="821.07" x2="479.20" y2="821.07" stroke="#111" stroke-width="1.0" />
<circle cx="495.60" cy="826.27" r="1.6" fill="#fff" stroke="#777" stroke-width="0.55"/>
<circle cx="495.60" cy="829.05" r="1.6" fill="#fff" stroke="#777" stroke-width="0.55"/>
<circle cx="495.60" cy="831.83" r="1.6" fill="#fff" stroke="#777" stroke-width="0.55"/>
<line x1="495.60" y1="825.96" x2="495.60" y2="832.14" stroke="#111" stroke-width="1.0" />
<line x1="491.00" y1="825.96" x2="500.20" y2="825.96" stroke="#111" stroke-width="1.0" />
<line x1="491.00" y1="832.14" x2="500.20" y2="832.14" stroke="#111" stroke-width="1.0" />
<circle cx="504.80" cy="801.27" r="1.6" fill="#de7b78" stroke="#8a3a3a" stroke-width="0.55"/>
<circle cx="504.80" cy="812.98" r="1.6" fill="#de7b78" stroke="#8a3a3a" stroke-width="0.55"/>
<circle cx="504.80" cy="819.78" r="1.6" fill="#de7b78" stroke="#8a3a3a" stroke-width="0.55"/>
<line x1="504.80" y1="802.01" x2="504.80" y2="819.78" stroke="#111" stroke-width="1.0" />
<line x1="500.20" y1="802.01" x2="509.40" y2="802.01" stroke="#111" stroke-width="1.0" />
<line x1="500.20" y1="819.78" x2="509.40" y2="819.78" stroke="#111" stroke-width="1.0" />
<circle cx="514.00" cy="816.31" r="1.6" fill="#9edc84" stroke="#4a8a3a" stroke-width="0.55"/>
<circle cx="514.00" cy="827.04" r="1.6" fill="#9edc84" stroke="#4a8a3a" stroke-width="0.55"/>
<circle cx="514.00" cy="835.49" r="1.6" fill="#9edc84" stroke="#4a8a3a" stroke-width="0.55"/>
<line x1="514.00" y1="816.95" x2="514.00" y2="835.49" stroke="#111" stroke-width="1.0" />
<line x1="509.40" y1="816.95" x2="518.60" y2="816.95" stroke="#111" stroke-width="1.0" />
<line x1="509.40" y1="835.49" x2="518.60" y2="835.49" stroke="#111" stroke-width="1.0" />
<circle cx="523.20" cy="845.71" r="1.6" fill="#6a6ab8" stroke="#30307a" stroke-width="0.55"/>
<circle cx="523.20" cy="847.33" r="1.6" fill="#6a6ab8" stroke="#30307a" stroke-width="0.55"/>
<circle cx="523.20" cy="848.95" r="1.6" fill="#6a6ab8" stroke="#30307a" stroke-width="0.55"/>
<line x1="523.20" y1="845.53" x2="523.20" y2="849.13" stroke="#111" stroke-width="1.0" />
<line x1="518.60" y1="845.53" x2="527.80" y2="845.53" stroke="#111" stroke-width="1.0" />
<line x1="518.60" y1="849.13" x2="527.80" y2="849.13" stroke="#111" stroke-width="1.0" />
<circle cx="544.20" cy="823.21" r="1.6" fill="#fff" stroke="#777" stroke-width="0.55"/>
<circle cx="544.20" cy="830.08" r="1.6" fill="#fff" stroke="#777" stroke-width="0.55"/>
<circle cx="544.20" cy="834.20" r="1.6" fill="#fff" stroke="#777" stroke-width="0.55"/>
<line x1="544.20" y1="823.64" x2="544.20" y2="834.20" stroke="#111" stroke-width="1.0" />
<line x1="539.60" y1="823.64" x2="548.80" y2="823.64" stroke="#111" stroke-width="1.0" />
<line x1="539.60" y1="834.20" x2="548.80" y2="834.20" stroke="#111" stroke-width="1.0" />
<circle cx="553.40" cy="717.42" r="1.6" fill="#de7b78" stroke="#8a3a3a" stroke-width="0.55"/>
<circle cx="553.40" cy="748.14" r="1.6" fill="#de7b78" stroke="#8a3a3a" stroke-width="0.55"/>
<circle cx="553.40" cy="766.48" r="1.6" fill="#de7b78" stroke="#8a3a3a" stroke-width="0.55"/>
<line x1="553.40" y1="719.36" x2="553.40" y2="766.48" stroke="#111" stroke-width="1.0" />
<line x1="548.80" y1="719.36" x2="558.00" y2="719.36" stroke="#111" stroke-width="1.0" />
<line x1="548.80" y1="766.48" x2="558.00" y2="766.48" stroke="#111" stroke-width="1.0" />
<circle cx="562.60" cy="727.16" r="1.6" fill="#9edc84" stroke="#4a8a3a" stroke-width="0.55"/>
<circle cx="562.60" cy="750.46" r="1.6" fill="#9edc84" stroke="#4a8a3a" stroke-width="0.55"/>
<circle cx="562.60" cy="764.67" r="1.6" fill="#9edc84" stroke="#4a8a3a" stroke-width="0.55"/>
<line x1="562.60" y1="728.62" x2="562.60" y2="764.67" stroke="#111" stroke-width="1.0" />
<line x1="558.00" y1="728.62" x2="567.20" y2="728.62" stroke="#111" stroke-width="1.0" />
<line x1="558.00" y1="764.67" x2="567.20" y2="764.67" stroke="#111" stroke-width="1.0" />
<circle cx="571.80" cy="806.31" r="1.6" fill="#6a6ab8" stroke="#30307a" stroke-width="0.55"/>
<circle cx="571.80" cy="823.80" r="1.6" fill="#6a6ab8" stroke="#30307a" stroke-width="0.55"/>
<circle cx="571.80" cy="833.68" r="1.6" fill="#6a6ab8" stroke="#30307a" stroke-width="0.55"/>
<line x1="571.80" y1="807.42" x2="571.80" y2="833.68" stroke="#111" stroke-width="1.0" />
<line x1="567.20" y1="807.42" x2="576.40" y2="807.42" stroke="#111" stroke-width="1.0" />
<line x1="567.20" y1="833.68" x2="576.40" y2="833.68" stroke="#111" stroke-width="1.0" />
<circle cx="592.80" cy="824.04" r="1.6" fill="#fff" stroke="#777" stroke-width="0.55"/>
<circle cx="592.80" cy="829.98" r="1.6" fill="#fff" stroke="#777" stroke-width="0.55"/>
<circle cx="592.80" cy="833.68" r="1.6" fill="#fff" stroke="#777" stroke-width="0.55"/>
<line x1="592.80" y1="824.41" x2="592.80" y2="833.68" stroke="#111" stroke-width="1.0" />
<line x1="588.20" y1="824.41" x2="597.40" y2="824.41" stroke="#111" stroke-width="1.0" />
<line x1="588.20" y1="833.68" x2="597.40" y2="833.68" stroke="#111" stroke-width="1.0" />
<circle cx="602.00" cy="776.09" r="1.6" fill="#de7b78" stroke="#8a3a3a" stroke-width="0.55"/>
<circle cx="602.00" cy="783.52" r="1.6" fill="#de7b78" stroke="#8a3a3a" stroke-width="0.55"/>
<circle cx="602.00" cy="789.91" r="1.6" fill="#de7b78" stroke="#8a3a3a" stroke-width="0.55"/>
<line x1="602.00" y1="776.52" x2="602.00" y2="789.91" stroke="#111" stroke-width="1.0" />
<line x1="597.40" y1="776.52" x2="606.60" y2="776.52" stroke="#111" stroke-width="1.0" />
<line x1="597.40" y1="789.91" x2="606.60" y2="789.91" stroke="#111" stroke-width="1.0" />
<circle cx="611.20" cy="760.84" r="1.6" fill="#9edc84" stroke="#4a8a3a" stroke-width="0.55"/>
<circle cx="611.20" cy="781.00" r="1.6" fill="#9edc84" stroke="#4a8a3a" stroke-width="0.55"/>
<circle cx="611.20" cy="793.77" r="1.6" fill="#9edc84" stroke="#4a8a3a" stroke-width="0.55"/>
<line x1="611.20" y1="762.10" x2="611.20" y2="793.77" stroke="#111" stroke-width="1.0" />
<line x1="606.60" y1="762.10" x2="615.80" y2="762.10" stroke="#111" stroke-width="1.0" />
<line x1="606.60" y1="793.77" x2="615.80" y2="793.77" stroke="#111" stroke-width="1.0" />
<circle cx="620.40" cy="805.10" r="1.6" fill="#6a6ab8" stroke="#30307a" stroke-width="0.55"/>
<circle cx="620.40" cy="813.60" r="1.6" fill="#6a6ab8" stroke="#30307a" stroke-width="0.55"/>
<circle cx="620.40" cy="819.78" r="1.6" fill="#6a6ab8" stroke="#30307a" stroke-width="0.55"/>
<line x1="620.40" y1="805.62" x2="620.40" y2="819.78" stroke="#111" stroke-width="1.0" />
<line x1="615.80" y1="805.62" x2="625.00" y2="805.62" stroke="#111" stroke-width="1.0" />
<line x1="615.80" y1="819.78" x2="625.00" y2="819.78" stroke="#111" stroke-width="1.0" />
<circle cx="641.40" cy="821.82" r="1.6" fill="#fff" stroke="#777" stroke-width="0.55"/>
<circle cx="641.40" cy="830.34" r="1.6" fill="#fff" stroke="#777" stroke-width="0.55"/>
<circle cx="641.40" cy="835.49" r="1.6" fill="#fff" stroke="#777" stroke-width="0.55"/>
<line x1="641.40" y1="822.35" x2="641.40" y2="835.49" stroke="#111" stroke-width="1.0" />
<line x1="636.80" y1="822.35" x2="646.00" y2="822.35" stroke="#111" stroke-width="1.0" />
<line x1="636.80" y1="835.49" x2="646.00" y2="835.49" stroke="#111" stroke-width="1.0" />
<circle cx="650.60" cy="761.82" r="1.6" fill="#de7b78" stroke="#8a3a3a" stroke-width="0.55"/>
<circle cx="650.60" cy="778.94" r="1.6" fill="#de7b78" stroke="#8a3a3a" stroke-width="0.55"/>
<circle cx="650.60" cy="790.68" r="1.6" fill="#de7b78" stroke="#8a3a3a" stroke-width="0.55"/>
<line x1="650.60" y1="762.87" x2="650.60" y2="790.68" stroke="#111" stroke-width="1.0" />
<line x1="646.00" y1="762.87" x2="655.20" y2="762.87" stroke="#111" stroke-width="1.0" />
<line x1="646.00" y1="790.68" x2="655.20" y2="790.68" stroke="#111" stroke-width="1.0" />
<circle cx="659.80" cy="767.12" r="1.6" fill="#9edc84" stroke="#4a8a3a" stroke-width="0.55"/>
<circle cx="659.80" cy="789.81" r="1.6" fill="#9edc84" stroke="#4a8a3a" stroke-width="0.55"/>
<circle cx="659.80" cy="803.81" r="1.6" fill="#9edc84" stroke="#4a8a3a" stroke-width="0.55"/>
<line x1="659.80" y1="768.54" x2="659.80" y2="803.81" stroke="#111" stroke-width="1.0" />
<line x1="655.20" y1="768.54" x2="664.40" y2="768.54" stroke="#111" stroke-width="1.0" />
<line x1="655.20" y1="803.81" x2="664.40" y2="803.81" stroke="#111" stroke-width="1.0" />
<circle cx="669.00" cy="808.53" r="1.6" fill="#6a6ab8" stroke="#30307a" stroke-width="0.55"/>
<circle cx="669.00" cy="811.54" r="1.6" fill="#6a6ab8" stroke="#30307a" stroke-width="0.55"/>
<circle cx="669.00" cy="814.55" r="1.6" fill="#6a6ab8" stroke="#30307a" stroke-width="0.55"/>
<line x1="669.00" y1="808.19" x2="669.00" y2="814.89" stroke="#111" stroke-width="1.0" />
<line x1="664.40" y1="808.19" x2="673.60" y2="808.19" stroke="#111" stroke-width="1.0" />
<line x1="664.40" y1="814.89" x2="673.60" y2="814.89" stroke="#111" stroke-width="1.0" />
<line x1="237.10" y1="695.60" x2="237.10" y2="855.50" stroke="#111" stroke-width="1.6" />
<line x1="236.30" y1="854.70" x2="685.00" y2="854.70" stroke="#111" stroke-width="1.6" />
<line x1="232.80" y1="854.80" x2="237.10" y2="854.80" stroke="#444" stroke-width="1.0" />
<text x="230.20" y="859.60" font-size="13.5" text-anchor="end" fill="#111">0</text>
<line x1="232.80" y1="829.05" x2="237.10" y2="829.05" stroke="#444" stroke-width="1.0" />
<text x="230.20" y="833.85" font-size="13.5" text-anchor="end" fill="#111">1</text>
<line x1="232.80" y1="803.30" x2="237.10" y2="803.30" stroke="#444" stroke-width="1.0" />
<text x="230.20" y="808.10" font-size="13.5" text-anchor="end" fill="#111">2</text>
<line x1="232.80" y1="777.55" x2="237.10" y2="777.55" stroke="#444" stroke-width="1.0" />
<text x="230.20" y="782.35" font-size="13.5" text-anchor="end" fill="#111">3</text>
<line x1="232.80" y1="751.80" x2="237.10" y2="751.80" stroke="#444" stroke-width="1.0" />
<text x="230.20" y="756.60" font-size="13.5" text-anchor="end" fill="#111">4</text>
<line x1="232.80" y1="726.05" x2="237.10" y2="726.05" stroke="#444" stroke-width="1.0" />
<text x="230.20" y="730.85" font-size="13.5" text-anchor="end" fill="#111">5</text>
<line x1="232.80" y1="700.30" x2="237.10" y2="700.30" stroke="#444" stroke-width="1.0" />
<text x="230.20" y="705.10" font-size="13.5" text-anchor="end" fill="#111">6</text>
<line x1="266.40" y1="854.70" x2="266.40" y2="859.00" stroke="#111" stroke-width="1.3" />
<text x="272.60" y="865.20" font-size="14" text-anchor="end" fill="#111" font-style="italic" transform="rotate(-45 272.60 865.20)">argR</text>
<line x1="315.00" y1="854.70" x2="315.00" y2="859.00" stroke="#111" stroke-width="1.3" />
<text x="321.20" y="865.20" font-size="14" text-anchor="end" fill="#111" font-style="italic" transform="rotate(-45 321.20 865.20)">argO</text>
<line x1="363.60" y1="854.70" x2="363.60" y2="859.00" stroke="#111" stroke-width="1.3" />
<text x="369.80" y="865.20" font-size="14" text-anchor="end" fill="#111" font-style="italic" transform="rotate(-45 369.80 865.20)">speB</text>
<line x1="412.20" y1="854.70" x2="412.20" y2="859.00" stroke="#111" stroke-width="1.3" />
<text x="418.40" y="865.20" font-size="14" text-anchor="end" fill="#111" font-style="italic" transform="rotate(-45 418.40 865.20)">speA</text>
<line x1="460.80" y1="854.70" x2="460.80" y2="859.00" stroke="#111" stroke-width="1.3" />
<text x="467.00" y="865.20" font-size="14" text-anchor="end" fill="#111" font-style="italic" transform="rotate(-45 467.00 865.20)">arcC</text>
<line x1="509.40" y1="854.70" x2="509.40" y2="859.00" stroke="#111" stroke-width="1.3" />
<text x="515.60" y="865.20" font-size="14" text-anchor="end" fill="#111" font-style="italic" transform="rotate(-45 515.60 865.20)">argE</text>
<line x1="558.00" y1="854.70" x2="558.00" y2="859.00" stroke="#111" stroke-width="1.3" />
<text x="564.20" y="865.20" font-size="14" text-anchor="end" fill="#111" font-style="italic" transform="rotate(-45 564.20 865.20)">argH</text>
<line x1="606.60" y1="854.70" x2="606.60" y2="859.00" stroke="#111" stroke-width="1.3" />
<text x="612.80" y="865.20" font-size="14" text-anchor="end" fill="#111" font-style="italic" transform="rotate(-45 612.80 865.20)">argD</text>
<line x1="655.20" y1="854.70" x2="655.20" y2="859.00" stroke="#111" stroke-width="1.3" />
<text x="661.40" y="865.20" font-size="14" text-anchor="end" fill="#111" font-style="italic" transform="rotate(-45 661.40 865.20)">artP</text>
<text x="216.00" y="768.00" font-size="11.2" text-anchor="middle" fill="#111" transform="rotate(-90 216.00 768.00)">Relative mRNA expression</text>
<polyline points="253.10,817.80 253.10,777.80 261.90,777.80" fill="none" stroke="#555" stroke-width="0.8"/>
<text x="257.40" y="777.50" font-size="9.3" text-anchor="middle" fill="#111">**</text>
<text x="260.40" y="768.00" font-size="8.7" text-anchor="start" fill="#111" transform="rotate(-90 260.40 768.00)"><tspan font-style="italic">p</tspan> = 0.002</text>
<polyline points="271.20,716.00 281.20,716.00 281.20,778.90" fill="none" stroke="#555" stroke-width="0.8"/>
<text x="276.20" y="715.70" font-size="9.3" text-anchor="middle" fill="#111">**</text>
<text x="279.20" y="705.70" font-size="8.7" text-anchor="start" fill="#111" transform="rotate(-90 279.20 705.70)"><tspan font-style="italic">p</tspan> = 0.003</text>
<polyline points="302.10,760.50 302.10,721.50 310.90,721.50" fill="none" stroke="#555" stroke-width="0.8"/>
<text x="306.40" y="721.50" font-size="9.3" text-anchor="middle" fill="#111">**</text>
<text x="309.40" y="710.20" font-size="8.7" text-anchor="start" fill="#111" transform="rotate(-90 309.40 710.20)"><tspan font-style="italic">p</tspan> = 0.002</text>
<polyline points="349.60,812.80 349.60,772.80 358.60,772.80" fill="none" stroke="#555" stroke-width="0.8"/>
<text x="354.10" y="773.00" font-size="9.3" text-anchor="middle" fill="#111">***</text>
<text x="357.90" y="762.50" font-size="8.7" text-anchor="start" fill="#111" transform="rotate(-90 357.90 762.50)"><tspan font-style="italic">p</tspan> &lt; 0.001</text>
<polyline points="398.80,819.00 398.80,754.60 408.10,754.60" fill="none" stroke="#555" stroke-width="0.8"/>
<text x="403.10" y="754.10" font-size="9.3" text-anchor="middle" fill="#111">***</text>
<text x="406.70" y="744.10" font-size="8.7" text-anchor="start" fill="#111" transform="rotate(-90 406.70 744.10)"><tspan font-style="italic">p</tspan> &lt; 0.001</text>
<polyline points="416.90,740.30 426.50,740.30 426.50,791.40" fill="none" stroke="#555" stroke-width="0.8"/>
<text x="421.90" y="739.80" font-size="9.3" text-anchor="middle" fill="#111">*</text>
<text x="424.40" y="730.30" font-size="8.7" text-anchor="start" fill="#111" transform="rotate(-90 424.40 730.30)"><tspan font-style="italic">p</tspan> = 0.012</text>
<polyline points="447.10,816.50 447.10,801.00 455.90,801.00" fill="none" stroke="#555" stroke-width="0.8"/>
<text x="451.90" y="800.70" font-size="9.3" text-anchor="middle" fill="#111">*</text>
<text x="454.30" y="791.40" font-size="8.7" text-anchor="start" fill="#111" transform="rotate(-90 454.30 791.40)"><tspan font-style="italic">p</tspan> = 0.018</text>
<polyline points="465.70,772.50 475.00,772.50 475.00,810.30" fill="none" stroke="#555" stroke-width="0.8"/>
<text x="469.50" y="772.50" font-size="9.3" text-anchor="middle" fill="#111">**</text>
<text x="472.20" y="763.40" font-size="8.7" text-anchor="start" fill="#111" transform="rotate(-90 472.20 763.40)"><tspan font-style="italic">p</tspan> = 0.005</text>
<polyline points="497.30,822.80 497.30,794.40 505.40,794.40" fill="none" stroke="#555" stroke-width="0.8"/>
<text x="501.40" y="793.70" font-size="9.3" text-anchor="middle" fill="#111">*</text>
<text x="504.80" y="783.50" font-size="8.7" text-anchor="start" fill="#111" transform="rotate(-90 504.80 783.50)"><tspan font-style="italic">p</tspan> = 0.015</text>
<polyline points="506.50,776.20 524.60,776.20 524.60,840.00" fill="none" stroke="#555" stroke-width="0.8"/>
<text x="515.20" y="775.30" font-size="9.3" text-anchor="middle" fill="#111">**</text>
<text x="518.20" y="764.20" font-size="8.7" text-anchor="start" fill="#111" transform="rotate(-90 518.20 764.20)"><tspan font-style="italic">p</tspan> = 0.005</text>
<polyline points="545.70,775.50 545.70,713.10 553.70,713.10" fill="none" stroke="#555" stroke-width="0.8"/>
<text x="549.50" y="713.20" font-size="9.3" text-anchor="middle" fill="#111">**</text>
<text x="551.70" y="703.90" font-size="8.7" text-anchor="start" fill="#111" transform="rotate(-90 551.70 703.90)"><tspan font-style="italic">p</tspan> = 0.002</text>
<polyline points="554.50,703.90 572.60,703.90 572.60,766.50" fill="none" stroke="#555" stroke-width="0.8"/>
<text x="562.70" y="703.90" font-size="9.3" text-anchor="middle" fill="#111">**</text>
<text x="565.80" y="693.90" font-size="8.7" text-anchor="start" fill="#111" transform="rotate(-90 565.80 693.90)"><tspan font-style="italic">p</tspan> = 0.002</text>
<polyline points="593.60,807.20 593.60,771.60 601.40,771.60" fill="none" stroke="#555" stroke-width="0.8"/>
<text x="597.70" y="771.00" font-size="9.3" text-anchor="middle" fill="#111">***</text>
<text x="601.00" y="761.00" font-size="8.7" text-anchor="start" fill="#111" transform="rotate(-90 601.00 761.00)"><tspan font-style="italic">p</tspan> &lt; 0.001</text>
<polyline points="603.50,736.80 621.60,736.80 621.60,798.20" fill="none" stroke="#555" stroke-width="0.8"/>
<text x="612.70" y="736.00" font-size="9.3" text-anchor="middle" fill="#111">*</text>
<text x="614.80" y="725.80" font-size="8.7" text-anchor="start" fill="#111" transform="rotate(-90 614.80 725.80)"><tspan font-style="italic">p</tspan> = 0.011</text>
<polyline points="642.60,818.70 642.60,758.60 651.20,758.60" fill="none" stroke="#555" stroke-width="0.8"/>
<text x="646.90" y="758.40" font-size="9.3" text-anchor="middle" fill="#111">**</text>
<text x="649.90" y="747.40" font-size="8.7" text-anchor="start" fill="#111" transform="rotate(-90 649.90 747.40)"><tspan font-style="italic">p</tspan> = 0.002</text>
<polyline points="653.00,734.00 670.80,734.00 670.80,798.20" fill="none" stroke="#555" stroke-width="0.8"/>
<text x="662.50" y="734.00" font-size="9.3" text-anchor="middle" fill="#111">*</text>
<text x="663.80" y="722.80" font-size="8.7" text-anchor="start" fill="#111" transform="rotate(-90 663.80 722.80)"><tspan font-style="italic">p</tspan> = 0.038</text>
</svg>
</body></html>
